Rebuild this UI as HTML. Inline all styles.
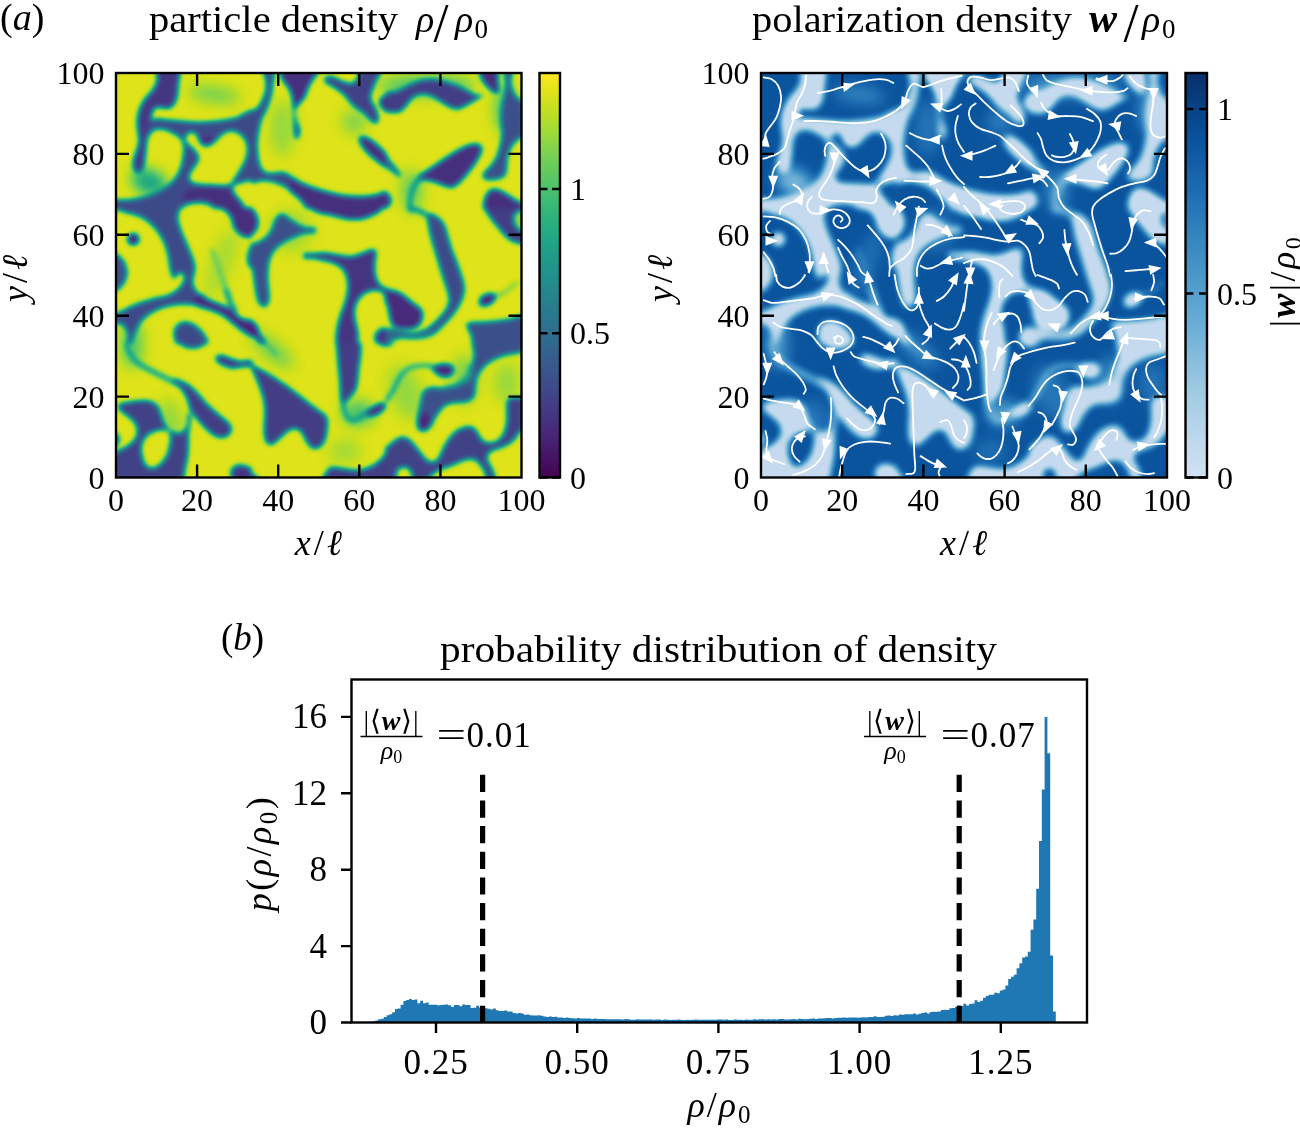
<!DOCTYPE html><html><head><meta charset="utf-8"><title>figure</title><style>html,body{margin:0;padding:0;background:#fff}svg{display:block}text{font-family:"Liberation Serif",serif;fill:#000}.t{letter-spacing:0.5px}.i{font-style:italic}.b{font-weight:bold;font-style:italic}</style></head><body>
<svg width="1300" height="1132" viewBox="0 0 1300 1132">
<defs>
<filter id="fv" x="0" y="0" width="1" height="1" color-interpolation-filters="sRGB"><feGaussianBlur stdDeviation="0.7"/><feComponentTransfer><feFuncR type="table" tableValues="0.2670 0.2770 0.2823 0.2829 0.2788 0.2706 0.2590 0.2450 0.2297 0.2143 0.1994 0.1856 0.1727 0.1607 0.1490 0.1378 0.1276 0.1206 0.1206 0.1323 0.1579 0.1966 0.2461 0.3041 0.3692 0.4401 0.5160 0.5958 0.6785 0.7624 0.8456 0.9261 0.9932"/><feFuncG type="table" tableValues="0.0049 0.0503 0.0950 0.1359 0.1755 0.2141 0.2515 0.2877 0.3224 0.3556 0.3876 0.4186 0.4488 0.4785 0.5081 0.5375 0.5669 0.5964 0.6258 0.6550 0.6838 0.7118 0.7389 0.7647 0.7889 0.8111 0.8312 0.8487 0.8637 0.8764 0.8873 0.8973 0.9062"/><feFuncB type="table" tableValues="0.3294 0.3757 0.4173 0.4534 0.4834 0.5071 0.5247 0.5373 0.5457 0.5512 0.5546 0.5568 0.5579 0.5581 0.5573 0.5549 0.5506 0.5436 0.5335 0.5197 0.5017 0.4792 0.4520 0.4199 0.3829 0.3410 0.2943 0.2433 0.1895 0.1371 0.0997 0.1041 0.1439"/></feComponentTransfer></filter>
<filter id="fb" x="0" y="0" width="1" height="1" color-interpolation-filters="sRGB"><feGaussianBlur stdDeviation="0.9"/><feComponentTransfer><feFuncR type="table" tableValues="0.7752 0.7752 0.7752 0.7752 0.7752 0.7752 0.7752 0.7752 0.7752 0.7752 0.7752 0.7605 0.7408 0.7162 0.6867 0.6571 0.6276 0.5859 0.5420 0.4918 0.4416 0.3969 0.3566 0.3112 0.2658 0.2238 0.1873 0.1467 0.1117 0.0810 0.0471 0.0348 0.0348"/><feFuncG type="table" tableValues="0.8583 0.8583 0.8583 0.8583 0.8583 0.8583 0.8583 0.8583 0.8583 0.8583 0.8583 0.8520 0.8437 0.8332 0.8207 0.8081 0.7956 0.7736 0.7495 0.7220 0.6944 0.6669 0.6393 0.6083 0.5773 0.5375 0.5010 0.4604 0.4205 0.3811 0.3378 0.3221 0.3221"/><feFuncB type="table" tableValues="0.9368 0.9368 0.9368 0.9368 0.9368 0.9368 0.9368 0.9368 0.9368 0.9368 0.9368 0.9317 0.9248 0.9162 0.9058 0.8955 0.8852 0.8751 0.8656 0.8548 0.8440 0.8304 0.8146 0.7969 0.7792 0.7584 0.7396 0.7187 0.6921 0.6614 0.6275 0.6152 0.6152"/></feComponentTransfer></filter>
<linearGradient id="gv" x1="0" y1="1" x2="0" y2="0"><stop offset="0.0000" stop-color="#440154"/><stop offset="0.0417" stop-color="#471063"/><stop offset="0.0833" stop-color="#481f70"/><stop offset="0.1250" stop-color="#472d7b"/><stop offset="0.1667" stop-color="#443983"/><stop offset="0.2083" stop-color="#404688"/><stop offset="0.2500" stop-color="#3b528b"/><stop offset="0.2917" stop-color="#365d8d"/><stop offset="0.3333" stop-color="#31688e"/><stop offset="0.3750" stop-color="#2c728e"/><stop offset="0.4167" stop-color="#287c8e"/><stop offset="0.4583" stop-color="#24868e"/><stop offset="0.5000" stop-color="#21918c"/><stop offset="0.5417" stop-color="#1f9a8a"/><stop offset="0.5833" stop-color="#20a486"/><stop offset="0.6250" stop-color="#28ae80"/><stop offset="0.6667" stop-color="#35b779"/><stop offset="0.7083" stop-color="#48c16e"/><stop offset="0.7500" stop-color="#5ec962"/><stop offset="0.7917" stop-color="#75d054"/><stop offset="0.8333" stop-color="#90d743"/><stop offset="0.8750" stop-color="#addc30"/><stop offset="0.9167" stop-color="#c8e020"/><stop offset="0.9583" stop-color="#e5e419"/><stop offset="1.0000" stop-color="#fde725"/></linearGradient>
<linearGradient id="gb" x1="0" y1="1" x2="0" y2="0"><stop offset="0.0000" stop-color="#d0e1f2"/><stop offset="0.0417" stop-color="#caddf0"/><stop offset="0.0833" stop-color="#c1d9ed"/><stop offset="0.1250" stop-color="#b7d4ea"/><stop offset="0.1667" stop-color="#abd0e6"/><stop offset="0.2083" stop-color="#a1cbe2"/><stop offset="0.2500" stop-color="#94c4df"/><stop offset="0.2917" stop-color="#87bddc"/><stop offset="0.3333" stop-color="#79b5d9"/><stop offset="0.3750" stop-color="#6aaed6"/><stop offset="0.4167" stop-color="#60a7d2"/><stop offset="0.4583" stop-color="#549fcd"/><stop offset="0.5000" stop-color="#4a98c9"/><stop offset="0.5417" stop-color="#3f8fc5"/><stop offset="0.5833" stop-color="#3787c0"/><stop offset="0.6250" stop-color="#2e7ebc"/><stop offset="0.6667" stop-color="#2575b7"/><stop offset="0.7083" stop-color="#1d6cb1"/><stop offset="0.7500" stop-color="#1764ab"/><stop offset="0.7917" stop-color="#105ba4"/><stop offset="0.8333" stop-color="#0a539e"/><stop offset="0.8750" stop-color="#084a91"/><stop offset="0.9167" stop-color="#084285"/><stop offset="0.9583" stop-color="#083877"/><stop offset="1.0000" stop-color="#08306b"/></linearGradient>
<clipPath id="cpf"><rect x="-3" y="-3" width="106" height="106"/></clipPath><clipPath id="cpo"><rect x="0" y="0" width="100" height="100"/></clipPath>
<g id="field" clip-path="url(#cpf)"><rect x="-4" y="-4" width="108" height="108" fill="#f2f2f2"/><filter id="hz" x="-1" y="-1" width="3" height="3" color-interpolation-filters="sRGB"><feGaussianBlur stdDeviation="1.6"/></filter><g filter="url(#hz)"><ellipse cx="8.2" cy="73.0" rx="4.5" ry="2.8" fill="#8c8c8c" transform="rotate(-25 8.2 73.0)"/><ellipse cx="24.2" cy="94.7" rx="6.5" ry="2.0" fill="#c7c7c7" transform="rotate(-8 24.2 94.7)"/><ellipse cx="41.0" cy="86.3" rx="3.0" ry="7.0" fill="#d6d6d6" transform="rotate(0 41.0 86.3)"/><ellipse cx="58.8" cy="88.0" rx="3.0" ry="3.0" fill="#cccccc" transform="rotate(0 58.8 88.0)"/><ellipse cx="76.6" cy="96.8" rx="12.0" ry="2.5" fill="#b8b8b8" transform="rotate(0 76.6 96.8)"/><ellipse cx="96.0" cy="91.0" rx="2.5" ry="6.0" fill="#b2b2b2" transform="rotate(0 96.0 91.0)"/><ellipse cx="72.9" cy="70.8" rx="2.5" ry="5.0" fill="#bfbfbf" transform="rotate(0 72.9 70.8)"/><ellipse cx="43.0" cy="61.0" rx="5.0" ry="5.0" fill="#d9d9d9" transform="rotate(0 43.0 61.0)"/><ellipse cx="26.0" cy="53.0" rx="2.5" ry="9.0" fill="#dbdbdb" transform="rotate(-20 26.0 53.0)"/><ellipse cx="4.0" cy="33.0" rx="2.5" ry="6.0" fill="#b8b8b8" transform="rotate(0 4.0 33.0)"/><ellipse cx="38.5" cy="31.5" rx="6.5" ry="2.2" fill="#c7c7c7" transform="rotate(-40 38.5 31.5)"/><ellipse cx="59.8" cy="15.9" rx="4.0" ry="3.0" fill="#b2b2b2" transform="rotate(0 59.8 15.9)"/><ellipse cx="71.5" cy="21.0" rx="4.0" ry="7.0" fill="#d6d6d6" transform="rotate(20 71.5 21.0)"/><ellipse cx="86.0" cy="24.3" rx="3.0" ry="6.0" fill="#cccccc" transform="rotate(0 86.0 24.3)"/><ellipse cx="96.4" cy="23.4" rx="3.0" ry="5.0" fill="#d6d6d6" transform="rotate(0 96.4 23.4)"/><ellipse cx="56.5" cy="6.5" rx="4.0" ry="3.0" fill="#dbdbdb" transform="rotate(0 56.5 6.5)"/><ellipse cx="13.5" cy="13.5" rx="3.0" ry="6.0" fill="#d6d6d6" transform="rotate(10 13.5 13.5)"/></g><clipPath id="ct00"><rect x="-4.000" y="66.625" width="37.292" height="37.375"/></clipPath><g clip-path="url(#ct00)"><path fill="#292929" d="M10.44 100.88C11.84 101.69 14.02 101.89 15.29 100.88C16.30 100.09 15.35 98.33 15.29 97.05C15.25 96.07 15.22 95.06 15.00 94.10C14.83 93.38 14.60 92.61 14.12 92.04C13.76 91.62 13.19 91.37 12.65 91.30C11.96 91.22 11.28 91.63 10.59 91.60C10.17 91.58 9.71 91.45 9.41 91.16C9.07 90.81 8.96 90.29 8.82 89.83C8.67 89.30 8.65 88.74 8.53 88.21C8.35 87.42 8.11 86.64 7.94 85.85C7.77 85.07 7.60 84.28 7.50 83.49C7.40 82.71 7.43 81.92 7.35 81.13C7.28 80.34 7.17 79.56 7.06 78.77C6.97 78.18 6.93 77.58 6.76 77.00C6.65 76.59 6.51 76.16 6.23 75.82C6.04 75.59 5.74 75.33 5.44 75.38C5.06 75.45 4.72 75.77 4.56 76.12C4.30 76.66 4.24 77.29 4.26 77.89C4.29 78.50 4.53 79.08 4.71 79.66C4.92 80.36 5.25 81.02 5.44 81.72C5.60 82.30 5.73 82.89 5.73 83.49C5.73 84.28 5.51 85.06 5.44 85.85C5.37 86.63 5.23 87.42 5.29 88.21C5.38 89.21 5.54 90.21 5.88 91.16C6.23 92.10 6.78 92.97 7.35 93.81C7.86 94.56 8.61 95.12 9.12 95.87C9.55 96.51 9.95 97.19 10.15 97.94C10.40 98.89 9.58 100.39 10.44 100.88Z"/><path fill="#393939" d="M7.94 87.62C8.16 88.25 9.05 88.42 9.71 88.56C10.38 88.71 11.08 88.50 11.76 88.44C13.24 88.33 14.70 88.17 16.18 88.06C17.65 87.95 19.11 87.76 20.59 87.76C22.06 87.76 23.53 87.89 25.00 88.06C26.48 88.23 27.96 88.46 29.41 88.80C30.91 89.15 33.53 91.63 33.82 90.12C35.35 82.26 40.41 70.65 33.82 66.09C24.31 59.51 10.66 65.39 -0.88 66.09C-1.59 66.14 -1.47 67.83 -0.88 68.22C0.19 68.92 1.67 68.45 2.94 68.60C3.93 68.72 4.92 68.81 5.88 69.04C7.18 69.35 8.48 69.69 9.71 70.22C10.75 70.68 11.74 71.30 12.65 71.99C13.42 72.58 14.14 73.27 14.71 74.06C15.28 74.86 15.69 75.78 16.03 76.71C16.34 77.56 16.49 78.47 16.62 79.36C16.73 80.14 16.87 80.94 16.76 81.72C16.67 82.44 16.46 83.19 16.03 83.78C15.64 84.32 14.98 84.62 14.41 84.96C13.75 85.36 13.09 85.77 12.35 86.00C11.69 86.19 10.98 86.29 10.29 86.20C9.76 86.14 9.23 85.90 8.82 85.55C8.37 85.17 8.02 84.63 7.79 84.08C7.57 83.53 7.47 81.71 7.50 82.31C7.57 84.08 7.35 85.94 7.94 87.62Z"/><path fill="#222222" d="M18.23 71.11C19.42 71.61 20.77 71.63 22.06 71.70C23.53 71.78 25.01 71.72 26.47 71.55C27.08 71.48 27.74 71.33 28.23 70.96C28.77 70.56 29.01 69.87 29.41 69.34C29.99 68.55 31.17 67.96 31.17 66.98C31.17 66.32 30.06 66.19 29.41 66.09C27.95 65.89 26.42 65.74 25.00 66.09C24.61 66.19 24.97 66.97 24.70 67.27C24.24 67.81 23.61 68.24 22.94 68.45C22.00 68.75 20.98 68.80 20.00 68.75C19.19 68.70 18.44 68.03 17.65 68.16C17.10 68.25 16.36 68.79 16.47 69.34C16.63 70.15 17.47 70.78 18.23 71.11Z"/><path fill="#222222" d="M20.59 83.93C20.67 84.53 21.75 84.40 22.35 84.37C23.06 84.35 24.04 84.39 24.41 83.78C24.69 83.33 23.98 82.74 23.53 82.46C23.11 82.20 22.50 82.09 22.06 82.31C21.41 82.64 20.48 83.21 20.59 83.93Z"/><path fill="#f2f2f2" d="M17.06 84.08C17.11 84.47 17.33 84.87 17.65 85.11C17.97 85.35 18.43 85.48 18.82 85.41C19.28 85.32 19.71 85.03 20.00 84.67C20.33 84.26 20.32 83.65 20.59 83.19C20.82 82.80 21.08 82.39 21.47 82.16C21.81 81.97 22.27 81.91 22.65 82.02C23.20 82.17 23.67 82.54 24.12 82.90C24.66 83.33 25.06 83.92 25.59 84.37C26.04 84.76 26.50 85.18 27.06 85.41C27.61 85.63 28.23 85.77 28.82 85.70C29.45 85.62 30.08 85.35 30.59 84.96C31.19 84.49 31.71 83.88 32.06 83.19C32.37 82.57 32.50 81.83 32.50 81.13C32.50 80.33 32.32 79.53 32.06 78.77C31.77 77.94 31.31 77.18 30.88 76.41C30.43 75.61 29.92 74.83 29.41 74.06C29.04 73.50 28.79 72.80 28.23 72.43C27.73 72.11 27.07 72.16 26.47 72.14C25.49 72.11 24.51 72.24 23.53 72.29C22.55 72.34 21.56 72.31 20.59 72.43C19.99 72.51 19.34 72.56 18.82 72.88C18.40 73.13 18.02 73.57 17.94 74.06C17.86 74.56 18.15 75.07 18.38 75.53C18.65 76.07 19.08 76.50 19.41 77.00C19.72 77.48 20.18 77.92 20.29 78.48C20.39 78.97 20.22 79.50 20.00 79.95C19.72 80.51 19.25 80.97 18.82 81.43C18.37 81.91 17.72 82.20 17.35 82.75C17.10 83.13 17.00 83.63 17.06 84.08Z"/><path fill="#f2f2f2" d="M28.67 71.70C28.86 72.22 29.49 72.49 30.00 72.73C30.55 72.99 31.17 73.06 31.76 73.17C32.44 73.30 33.63 74.13 33.82 73.47C34.51 71.11 34.30 68.50 33.82 66.09C33.73 65.61 32.75 65.81 32.35 66.09C31.56 66.67 31.19 67.68 30.59 68.45C30.11 69.06 29.51 69.56 29.12 70.22C28.86 70.66 28.50 71.21 28.67 71.70Z"/><path fill="#f2f2f2" d="M15.88 66.09C15.57 66.12 16.23 66.63 16.47 66.83C16.82 67.13 17.21 67.42 17.65 67.57C18.40 67.82 19.20 67.99 20.00 68.01C20.79 68.04 21.59 67.92 22.35 67.72C22.88 67.57 23.39 67.32 23.82 66.98C24.10 66.76 24.76 66.13 24.41 66.09C21.58 65.78 18.71 65.83 15.88 66.09Z"/></g><clipPath id="ct01"><rect x="-4.000" y="33.251" width="37.292" height="33.375"/></clipPath><g clip-path="url(#ct01)"><path fill="#393939" d="M-0.59 67.22C1.98 71.84 10.09 68.19 15.29 67.22C16.26 67.03 15.09 65.25 15.15 64.27C15.19 63.56 15.39 62.88 15.59 62.20C15.83 61.40 16.15 60.62 16.47 59.84C16.84 58.95 17.27 58.08 17.65 57.19C18.06 56.22 18.49 55.25 18.82 54.24C19.08 53.47 19.35 52.69 19.41 51.88C19.45 51.29 19.21 50.70 19.12 50.12C19.02 49.53 18.77 48.94 18.82 48.35C18.87 47.73 19.11 47.12 19.41 46.58C19.71 46.02 20.12 45.52 20.59 45.10C21.11 44.63 21.74 44.28 22.35 43.92C23.11 43.49 23.90 43.10 24.70 42.74C25.47 42.41 26.31 42.24 27.06 41.86C27.50 41.64 27.86 41.30 28.23 40.98C28.65 40.61 28.97 40.14 29.41 39.80C29.86 39.44 30.37 39.17 30.88 38.91C31.84 38.43 33.13 38.41 33.82 37.58C34.29 37.02 34.32 35.92 33.82 35.37C33.47 34.98 32.81 35.71 32.35 35.96C31.73 36.30 31.15 36.72 30.59 37.14C29.97 37.60 29.41 38.13 28.82 38.62C28.23 39.11 27.69 39.65 27.06 40.09C26.41 40.54 25.72 40.95 25.00 41.27C24.15 41.64 23.25 41.92 22.35 42.15C21.38 42.41 20.40 42.62 19.41 42.74C18.44 42.87 17.45 42.92 16.47 42.89C15.48 42.87 14.49 42.79 13.53 42.60C12.52 42.40 11.53 42.11 10.59 41.71C9.76 41.37 8.97 40.90 8.23 40.39C7.49 39.87 6.76 39.31 6.18 38.62C5.67 38.01 5.35 37.26 5.00 36.55C4.67 35.88 4.36 35.20 4.12 34.49C3.92 33.91 4.04 33.21 3.68 32.72C3.50 32.48 2.87 32.44 2.79 32.72C2.60 33.39 3.11 34.09 3.09 34.78C3.06 35.39 2.93 36.01 2.65 36.55C2.37 37.08 1.97 37.56 1.47 37.88C0.86 38.27 -0.54 37.89 -0.59 38.62C-1.26 48.13 -5.22 58.88 -0.59 67.22Z"/><path fill="#f2f2f2" d="M-0.59 65.74C-0.42 66.91 1.78 65.66 2.94 65.45C3.95 65.26 4.96 65.00 5.88 64.56C6.84 64.11 7.73 63.49 8.53 62.79C9.31 62.10 9.99 61.29 10.59 60.43C11.17 59.61 11.67 58.71 12.06 57.78C12.46 56.83 12.72 55.83 12.94 54.83C13.16 53.86 13.20 52.86 13.38 51.88C13.49 51.29 13.60 50.68 13.82 50.12C13.95 49.78 14.06 49.23 14.41 49.23C14.77 49.23 14.75 49.86 15.00 50.12C15.25 50.37 15.53 50.70 15.88 50.70C16.24 50.70 16.59 50.42 16.76 50.12C16.96 49.77 17.00 49.32 16.91 48.94C16.79 48.40 16.50 47.90 16.18 47.46C15.76 46.91 15.28 46.38 14.71 45.99C13.98 45.49 13.18 45.09 12.35 44.81C11.40 44.49 10.38 44.46 9.41 44.22C8.42 43.97 7.44 43.67 6.47 43.33C5.47 42.98 4.49 42.58 3.53 42.15C2.73 41.80 1.99 41.30 1.18 40.98C0.61 40.75 -0.55 39.93 -0.59 40.53C-1.19 48.91 -1.77 57.42 -0.59 65.74Z"/><path fill="#3e3e3e" d="M-0.59 55.13C-0.38 55.89 0.93 54.52 1.47 53.95C2.00 53.39 2.27 52.62 2.50 51.88C2.67 51.32 2.72 50.70 2.65 50.12C2.57 49.50 2.36 48.89 2.06 48.35C1.76 47.79 1.38 47.26 0.88 46.87C0.47 46.55 -0.50 45.76 -0.59 46.28C-1.11 49.18 -1.35 52.28 -0.59 55.13Z"/><path fill="#0e0e0e" d="M2.94 58.90C2.94 59.24 3.08 59.60 3.32 59.84C3.56 60.08 3.93 60.23 4.26 60.23C4.60 60.23 4.97 60.08 5.21 59.84C5.45 59.60 5.59 59.24 5.59 58.90C5.59 58.56 5.45 58.20 5.21 57.96C4.97 57.72 4.60 57.57 4.26 57.57C3.93 57.57 3.56 57.72 3.32 57.96C3.08 58.20 2.94 58.56 2.94 58.90Z"/><path fill="#222222" d="M25.59 67.22C24.72 66.97 27.05 66.13 27.65 65.45C28.09 64.93 28.41 64.31 28.67 63.68C28.91 63.12 28.84 62.45 29.12 61.91C29.40 61.35 29.82 60.85 30.29 60.43C30.72 60.05 31.20 59.67 31.76 59.55C32.44 59.41 33.64 59.03 33.82 59.70C34.47 62.12 35.67 65.53 33.82 67.22C31.79 69.07 28.23 67.97 25.59 67.22Z"/><path fill="#3e3e3e" d="M33.82 57.19C33.74 57.60 33.11 56.69 32.94 56.31C32.65 55.66 32.53 54.95 32.50 54.24C32.48 53.65 32.50 53.00 32.79 52.47C32.99 52.13 33.74 51.50 33.82 51.88C34.20 53.61 34.17 55.46 33.82 57.19Z"/><path fill="#393939" d="M14.41 35.96C14.48 36.49 14.65 37.04 15.00 37.44C15.38 37.87 15.91 38.19 16.47 38.32C17.05 38.45 17.67 38.36 18.23 38.17C18.88 37.96 19.46 37.56 20.00 37.14C20.55 36.72 21.05 36.22 21.47 35.67C21.89 35.13 22.22 34.52 22.50 33.90C22.66 33.53 23.19 32.79 22.79 32.72C20.33 32.32 17.75 32.28 15.29 32.72C14.75 32.82 14.70 33.66 14.56 34.19C14.40 34.77 14.33 35.38 14.41 35.96Z"/><path fill="#bfbfbf" d="M23.23 56.31C23.21 56.56 23.83 56.66 23.97 56.45C24.61 55.53 24.88 54.40 25.29 53.36C25.71 52.29 26.10 51.20 26.47 50.12C26.83 49.04 27.45 48.01 27.50 46.87C27.51 46.56 26.79 46.32 26.62 46.58C25.96 47.52 25.83 48.74 25.44 49.82C25.05 50.90 24.63 51.97 24.26 53.06C23.90 54.14 23.33 55.18 23.23 56.31Z"/><path fill="#808080" d="M26.62 46.58C26.60 46.89 27.32 47.13 27.50 46.87C28.16 45.93 28.27 44.70 28.67 43.63C29.05 42.64 29.85 41.74 29.85 40.68C29.85 40.26 28.96 39.93 28.67 40.24C28.00 40.96 27.95 42.09 27.65 43.04C27.27 44.21 26.66 45.35 26.62 46.58Z"/><path fill="#1c1c1c" d="M20.59 45.25C21.38 45.40 21.93 44.35 22.65 43.98C23.40 43.59 24.21 43.30 25.00 42.98C25.73 42.69 26.50 42.50 27.20 42.15C27.68 41.92 28.12 41.61 28.53 41.27C28.96 40.92 29.27 40.43 29.70 40.09C30.16 39.74 30.64 39.42 31.17 39.21C32.22 38.78 33.74 39.09 34.41 38.17C35.08 37.26 35.10 35.68 34.41 34.78C33.96 34.21 33.00 35.19 32.35 35.52C31.72 35.84 31.15 36.28 30.59 36.70C29.97 37.16 29.41 37.68 28.82 38.17C28.23 38.67 27.69 39.21 27.06 39.65C26.41 40.10 25.71 40.49 25.00 40.83C24.24 41.18 23.44 41.45 22.65 41.71C21.97 41.94 21.24 42.00 20.59 42.30C20.04 42.55 19.12 42.74 19.12 43.33C19.12 44.14 19.80 45.10 20.59 45.25Z"/></g><clipPath id="ct02"><rect x="-4.000" y="-4.000" width="37.292" height="37.251"/></clipPath><g clip-path="url(#ct02)"><path fill="#393939" d="M15.29 33.84C14.75 33.73 15.99 32.95 16.47 32.66C17.00 32.34 17.62 32.14 18.23 32.07C18.92 31.99 19.63 32.05 20.29 32.22C20.82 32.35 21.33 32.62 21.76 32.96C22.04 33.18 22.70 33.79 22.35 33.84C20.02 34.16 17.60 34.30 15.29 33.84Z"/><path fill="#222222" d="M24.65 29.48C24.66 29.86 25.20 30.11 25.59 30.16C26.09 30.22 26.58 29.93 27.06 29.77C27.71 29.56 28.32 29.24 28.97 29.03C29.59 28.84 30.23 28.62 30.88 28.59C31.86 28.55 32.87 29.09 33.82 28.83C34.15 28.74 34.13 27.94 33.82 27.80C32.93 27.38 31.86 27.57 30.88 27.44C30.19 27.35 29.51 27.12 28.82 27.15C28.22 27.17 27.62 27.38 27.06 27.59C26.52 27.79 25.98 28.03 25.53 28.39C25.16 28.67 24.63 29.01 24.65 29.48Z"/><path fill="#808080" d="M2.65 33.84C3.09 33.13 3.12 32.21 3.53 31.48C4.01 30.63 4.58 29.79 5.29 29.12C6.07 28.40 7.02 27.88 7.94 27.35C8.99 26.75 10.10 26.27 11.18 25.73C12.06 25.29 12.93 24.83 13.82 24.41C14.70 23.99 15.79 23.91 16.47 23.23C16.72 22.98 16.23 22.31 15.88 22.34C14.92 22.43 14.11 23.11 13.23 23.52C12.34 23.94 11.47 24.41 10.59 24.85C9.61 25.34 8.61 25.79 7.65 26.32C6.74 26.82 5.79 27.28 5.00 27.94C4.31 28.52 3.72 29.24 3.24 30.01C2.78 30.73 2.46 31.55 2.21 32.37C2.06 32.84 1.92 33.37 2.06 33.84C2.11 34.03 2.54 34.01 2.65 33.84Z"/><path fill="#2e2e2e" d="M14.12 24.26C14.94 24.33 15.72 23.85 16.47 23.52C17.20 23.21 17.90 22.83 18.53 22.34C19.19 21.83 19.73 21.19 20.29 20.57C20.81 20.01 21.25 19.37 21.76 18.80C22.33 18.19 22.92 17.60 23.53 17.04C24.19 16.42 24.90 15.85 25.59 15.27C26.17 14.77 26.82 14.35 27.35 13.79C27.76 13.36 28.26 12.91 28.38 12.32C28.48 11.82 28.26 11.24 27.94 10.84C27.58 10.40 27.03 10.06 26.47 9.96C25.88 9.85 25.25 10.02 24.70 10.25C24.05 10.53 23.48 10.98 22.94 11.43C22.30 11.97 21.74 12.59 21.18 13.20C20.66 13.77 20.19 14.38 19.70 14.97C19.31 15.46 18.81 15.88 18.53 16.45C18.21 17.09 18.18 17.84 17.94 18.51C17.69 19.21 17.41 19.91 17.06 20.57C16.72 21.20 16.34 21.80 15.88 22.34C15.55 22.74 15.06 22.99 14.71 23.37C14.47 23.63 13.76 24.23 14.12 24.26Z"/><path fill="#323232" d="M0.59 17.63C0.62 17.90 0.92 18.11 1.18 18.21C1.73 18.44 2.35 18.47 2.94 18.57C3.62 18.68 4.31 18.80 5.00 18.86C5.68 18.93 6.37 19.01 7.06 18.95C7.76 18.89 8.48 18.80 9.12 18.51C9.59 18.29 10.00 17.91 10.29 17.48C10.62 17.00 10.74 16.40 10.94 15.86C11.15 15.27 11.28 14.66 11.53 14.09C11.80 13.47 12.07 12.84 12.50 12.32C12.85 11.89 13.33 11.56 13.82 11.29C14.28 11.04 14.78 10.79 15.29 10.79C15.76 10.79 16.25 10.99 16.62 11.29C17.03 11.63 17.31 12.12 17.50 12.61C17.71 13.17 17.69 13.79 17.79 14.38C17.88 14.87 17.59 15.86 18.09 15.86C18.59 15.86 18.41 14.88 18.38 14.38C18.31 13.19 17.91 12.03 17.79 10.84C17.71 9.96 17.83 9.07 17.79 8.19C17.76 7.21 17.72 6.22 17.59 5.24C17.45 4.25 17.26 3.26 17.00 2.29C16.73 1.29 17.05 -0.48 16.03 -0.65C10.57 -1.57 4.57 -2.67 -0.59 -0.65C-2.60 0.13 -1.01 3.71 -0.59 5.83C-0.48 6.39 0.38 6.44 0.88 6.72C1.46 7.03 2.09 7.25 2.65 7.60C3.18 7.94 3.69 8.32 4.12 8.78C4.53 9.22 4.94 9.69 5.15 10.25C5.35 10.81 5.37 11.44 5.29 12.02C5.22 12.55 5.00 13.06 4.71 13.50C4.40 13.96 3.94 14.31 3.53 14.68C3.06 15.09 2.54 15.46 2.06 15.86C1.71 16.14 1.32 16.39 1.03 16.74C0.82 16.99 0.56 17.30 0.59 17.63Z"/><path fill="#f2f2f2" d="M6.18 7.31C6.20 7.91 6.34 8.54 6.62 9.08C6.94 9.69 7.40 10.26 7.94 10.70C8.45 11.11 9.08 11.39 9.71 11.58C10.37 11.79 11.07 11.94 11.76 11.88C12.25 11.83 12.79 11.66 13.09 11.29C13.44 10.85 13.51 10.22 13.53 9.66C13.56 8.97 13.38 8.28 13.23 7.60C13.09 6.90 12.95 6.19 12.65 5.54C12.35 4.89 11.94 4.30 11.47 3.77C11.05 3.30 10.56 2.87 10.00 2.59C9.55 2.36 9.02 2.19 8.53 2.29C8.01 2.40 7.53 2.76 7.21 3.18C6.81 3.68 6.62 4.33 6.47 4.95C6.28 5.72 6.15 6.51 6.18 7.31Z"/><path fill="#4c4c4c" d="M-0.59 11.14C-0.46 11.51 0.19 10.86 0.44 10.55C0.70 10.23 0.82 9.78 0.82 9.37C0.82 8.96 0.70 8.51 0.44 8.19C0.19 7.88 -0.46 7.23 -0.59 7.60C-0.98 8.71 -0.98 10.03 -0.59 11.14Z"/><path fill="#272727" d="M28.38 1.41C28.49 1.86 28.74 2.31 29.12 2.59C29.53 2.89 30.07 3.03 30.59 3.03C31.19 3.03 31.78 2.80 32.35 2.59C32.87 2.40 33.60 2.35 33.82 1.85C34.17 1.09 34.56 -0.26 33.82 -0.65C32.44 -1.39 30.66 -0.91 29.12 -0.65C28.77 -0.60 28.65 -0.10 28.53 0.23C28.39 0.60 28.28 1.03 28.38 1.41Z"/></g><clipPath id="ct10"><rect x="33.292" y="66.625" width="33.292" height="37.375"/></clipPath><g clip-path="url(#ct10)"><path fill="#393939" d="M32.70 90.12C32.79 90.89 34.21 90.62 34.76 91.16C35.43 91.80 35.85 92.67 36.23 93.51C36.62 94.36 36.92 95.25 37.06 96.17C37.17 96.95 37.06 97.74 36.97 98.53C36.88 99.22 36.07 100.05 36.53 100.59C37.01 101.15 38.36 101.23 38.73 100.59C39.33 99.57 38.69 98.23 38.59 97.05C38.50 96.06 38.39 95.07 38.14 94.10C37.89 93.09 37.52 92.12 37.12 91.16C36.78 90.34 36.25 89.62 35.94 88.80C35.61 87.94 35.37 87.05 35.20 86.14C34.97 84.88 34.79 83.60 34.76 82.31C34.74 81.13 34.85 79.94 35.06 78.77C35.20 77.96 35.38 77.13 35.79 76.41C36.09 75.90 36.56 75.43 37.12 75.23C37.76 75.01 38.49 75.21 39.17 75.23C39.86 75.26 40.56 75.53 41.23 75.38C41.98 75.22 42.62 74.73 43.29 74.35C44.10 73.89 44.82 73.29 45.64 72.88C46.59 72.40 47.59 72.04 48.59 71.70C49.84 71.26 51.12 70.84 52.41 70.52C53.86 70.15 55.33 69.81 56.82 69.63C58.28 69.46 59.76 69.43 61.23 69.49C62.32 69.53 63.39 69.74 64.47 69.93C65.36 70.08 66.60 71.26 67.11 70.52C67.95 69.30 68.55 66.42 67.11 66.09C60.81 64.66 54.14 65.46 47.70 66.09C46.86 66.18 46.78 67.51 46.23 68.16C45.70 68.80 45.10 69.38 44.47 69.93C43.72 70.57 42.96 71.20 42.12 71.70C41.19 72.24 40.20 72.71 39.17 73.02C38.22 73.31 37.22 73.42 36.23 73.47C35.06 73.52 32.95 72.17 32.70 73.32C31.54 78.80 32.06 84.56 32.70 90.12Z"/><path fill="#222222" d="M40.64 100.59C39.86 100.40 40.89 98.97 41.23 98.23C41.59 97.47 42.31 96.91 42.70 96.17C43.05 95.52 43.28 94.82 43.44 94.10C43.63 93.23 43.66 92.34 43.73 91.45C43.81 90.57 43.82 89.68 43.88 88.80C43.92 88.21 43.98 87.62 44.03 87.03C44.08 86.24 44.03 85.44 44.17 84.67C44.23 84.34 44.29 83.78 44.62 83.78C44.94 83.78 44.98 84.35 45.06 84.67C45.18 85.15 45.28 85.65 45.20 86.14C45.13 86.67 44.76 87.11 44.62 87.62C44.42 88.29 44.23 88.98 44.17 89.68C44.13 90.27 44.10 90.90 44.32 91.45C44.51 91.93 45.02 92.23 45.35 92.63C45.75 93.11 46.23 93.55 46.53 94.10C46.92 94.84 47.05 95.70 47.41 96.46C47.74 97.18 48.15 97.87 48.59 98.53C48.93 99.05 49.29 99.59 49.76 100.00C50.09 100.29 51.38 100.56 50.94 100.59C47.51 100.81 43.98 101.40 40.64 100.59Z"/><path fill="#323232" d="M51.53 98.53C51.66 98.85 52.06 99.07 52.41 99.12C52.90 99.18 53.41 98.99 53.88 98.82C54.50 98.60 55.03 98.17 55.64 97.94C56.31 97.68 56.99 97.35 57.70 97.35C58.23 97.35 58.80 97.56 59.17 97.94C59.55 98.31 59.62 98.90 59.76 99.41C59.87 99.79 59.52 100.50 59.91 100.59C61.58 100.96 63.55 101.42 65.06 100.59C65.79 100.18 64.48 99.01 64.17 98.23C63.90 97.54 63.54 96.87 63.29 96.17C63.05 95.49 62.73 94.82 62.70 94.10C62.68 93.59 62.93 93.10 63.14 92.63C63.38 92.11 63.79 91.68 64.03 91.16C64.28 90.59 64.53 90.00 64.61 89.39C64.68 88.90 64.66 88.37 64.47 87.91C64.38 87.71 64.09 87.55 63.88 87.62C63.41 87.77 63.07 88.17 62.70 88.50C62.08 89.06 61.58 89.74 60.94 90.27C60.39 90.72 59.72 91.00 59.17 91.45C58.64 91.89 58.17 92.41 57.70 92.92C57.28 93.39 56.97 93.95 56.53 94.40C55.98 94.94 55.37 95.41 54.76 95.87C54.20 96.30 53.60 96.69 53.00 97.05C52.62 97.28 52.13 97.33 51.82 97.64C51.60 97.86 51.41 98.24 51.53 98.53Z"/><path fill="#222222" d="M67.41 94.55C67.22 95.02 66.39 94.34 65.94 94.10C65.63 93.94 65.36 93.68 65.20 93.37C65.05 93.06 64.98 92.67 65.06 92.33C65.13 91.99 65.37 91.67 65.64 91.45C66.17 91.02 67.07 89.83 67.41 90.42C68.09 91.61 67.92 93.27 67.41 94.55Z"/><path fill="#222222" d="M60.06 83.93C60.16 84.27 60.73 84.29 61.08 84.23C61.67 84.13 62.20 83.80 62.70 83.49C63.33 83.11 63.91 82.64 64.47 82.16C64.99 81.71 65.46 81.19 65.94 80.69C66.34 80.26 66.76 79.83 67.11 79.36C67.54 78.80 68.08 78.27 68.29 77.59C68.49 76.94 68.78 76.02 68.29 75.53C67.94 75.18 67.52 76.13 67.11 76.41C66.53 76.82 65.93 77.18 65.35 77.59C64.75 78.02 64.15 78.45 63.58 78.92C62.97 79.43 62.36 79.95 61.82 80.54C61.32 81.09 60.84 81.66 60.50 82.31C60.24 82.81 59.89 83.40 60.06 83.93Z"/><path fill="#222222" d="M43.00 73.32C43.84 73.68 44.77 72.82 45.64 72.52C46.64 72.18 47.59 71.74 48.59 71.40C49.85 70.97 51.12 70.55 52.41 70.22C53.86 69.86 55.33 69.51 56.82 69.34C58.28 69.17 59.76 69.16 61.23 69.22C62.32 69.26 63.40 69.45 64.47 69.63C65.46 69.80 66.80 71.08 67.41 70.28C68.32 69.10 68.86 66.14 67.41 65.80C61.10 64.34 54.44 65.17 48.00 65.80C47.10 65.89 46.85 67.20 46.23 67.86C45.67 68.48 45.07 69.06 44.47 69.63C43.89 70.19 43.00 70.51 42.70 71.25C42.45 71.90 42.36 73.04 43.00 73.32Z"/></g><clipPath id="ct11"><rect x="33.292" y="33.251" width="33.292" height="33.375"/></clipPath><g clip-path="url(#ct11)"><path fill="#222222" d="M32.70 67.22C32.76 67.63 33.32 66.65 33.59 66.33C33.91 65.96 34.26 65.59 34.47 65.15C34.73 64.60 34.94 64.00 35.00 63.38C35.05 62.84 34.96 62.27 34.76 61.76C34.57 61.26 34.24 60.82 33.88 60.43C33.55 60.08 32.79 59.07 32.70 59.55C32.27 62.07 32.37 64.68 32.70 67.22Z"/><path fill="#3e3e3e" d="M32.70 57.19C33.10 57.93 34.31 57.70 35.06 58.08C35.69 58.39 36.30 58.78 36.82 59.25C37.39 59.77 37.91 60.36 38.29 61.02C38.71 61.75 38.81 62.63 39.17 63.38C39.40 63.86 39.64 64.38 40.06 64.71C40.37 64.96 40.84 65.11 41.23 65.00C41.81 64.84 42.21 64.31 42.70 63.97C43.29 63.57 43.86 63.15 44.47 62.79C45.13 62.41 45.80 62.02 46.53 61.76C47.43 61.44 49.32 62.04 49.32 61.08C49.32 60.13 47.45 60.70 46.53 60.43C45.83 60.23 45.14 59.97 44.47 59.70C43.67 59.38 42.87 59.07 42.12 58.67C41.49 58.33 40.90 57.93 40.35 57.49C39.81 57.05 39.28 56.58 38.88 56.01C38.44 55.38 38.08 54.68 37.85 53.95C37.58 53.09 37.48 52.19 37.41 51.29C37.33 50.31 37.36 49.33 37.41 48.35C37.46 47.36 37.67 46.39 37.70 45.40C37.72 44.71 37.77 43.99 37.56 43.33C37.41 42.90 37.11 42.44 36.67 42.30C36.32 42.19 35.90 42.47 35.65 42.74C35.27 43.15 35.06 43.69 34.91 44.22C34.61 45.28 34.50 46.38 34.32 47.46C34.11 48.74 34.06 50.04 33.73 51.29C33.52 52.12 32.85 52.81 32.70 53.65C32.50 54.81 32.15 56.15 32.70 57.19Z"/><path fill="#222222" d="M47.70 67.22C47.25 67.19 48.21 66.43 48.59 66.18C49.12 65.83 49.74 65.62 50.35 65.45C51.31 65.17 52.32 65.08 53.29 64.86C54.28 64.63 55.24 64.31 56.23 64.12C57.01 63.97 57.79 63.82 58.58 63.82C59.47 63.82 60.37 63.92 61.23 64.12C62.05 64.31 62.84 64.63 63.58 65.00C64.22 65.32 64.83 65.70 65.35 66.18C65.64 66.45 66.33 67.19 65.94 67.22C59.87 67.57 53.77 67.58 47.70 67.22Z"/><path fill="#272727" d="M46.23 54.77C46.23 55.58 47.79 55.18 48.59 55.27C49.56 55.39 50.55 55.47 51.53 55.42C52.52 55.37 53.49 55.13 54.47 54.98C55.45 54.83 56.42 54.54 57.41 54.54C58.21 54.54 58.99 54.76 59.76 54.98C60.37 55.16 60.93 55.49 61.53 55.72C62.11 55.94 62.67 56.27 63.29 56.31C63.58 56.32 63.96 56.14 64.03 55.86C64.18 55.24 63.93 54.59 63.88 53.95C63.83 53.26 63.71 52.57 63.73 51.88C63.76 51.09 63.81 50.29 64.03 49.53C64.21 48.89 64.52 48.29 64.91 47.76C65.17 47.40 65.55 47.13 65.94 46.93C66.30 46.75 67.08 47.04 67.11 46.64C67.50 41.62 70.34 35.41 67.11 31.54C64.43 28.32 58.67 30.87 54.53 31.54C53.85 31.65 54.39 32.92 54.38 33.60C54.37 34.39 54.37 35.18 54.47 35.96C54.59 36.96 54.80 37.94 55.06 38.91C55.29 39.81 55.64 40.68 55.94 41.57C56.23 42.45 56.58 43.32 56.82 44.22C57.02 44.99 57.21 45.78 57.26 46.58C57.31 47.36 57.27 48.16 57.11 48.94C56.97 49.65 56.76 50.38 56.38 51.00C56.05 51.53 55.56 51.96 55.06 52.33C54.52 52.71 53.91 52.99 53.29 53.21C52.53 53.48 51.73 53.63 50.94 53.80C50.16 53.97 49.37 54.08 48.59 54.24C47.80 54.41 46.23 53.97 46.23 54.77Z"/><path fill="#f2f2f2" d="M58.73 40.09C58.71 40.78 58.71 41.49 58.88 42.15C59.06 42.84 59.36 43.49 59.76 44.07C60.16 44.64 60.66 45.15 61.23 45.55C61.76 45.90 62.37 46.15 63.00 46.28C63.57 46.40 64.19 46.42 64.76 46.28C65.25 46.17 65.83 45.98 66.08 45.55C66.52 44.81 66.51 43.88 66.67 43.04C66.86 42.06 67.04 41.08 67.11 40.09C67.19 39.01 67.56 37.83 67.11 36.85C66.91 36.40 66.11 37.00 65.64 36.85C65.18 36.69 64.76 36.36 64.47 35.96C64.15 35.54 63.93 35.02 63.88 34.49C63.82 33.89 64.66 33.06 64.17 32.72C63.04 31.92 61.28 31.08 60.11 31.84C59.03 32.54 59.83 34.40 59.61 35.67C59.46 36.56 59.20 37.43 59.03 38.32C58.91 38.91 58.75 39.49 58.73 40.09Z"/><path fill="#121212" d="M32.70 38.76C32.91 39.20 33.66 38.49 34.03 38.17C34.43 37.83 34.68 37.33 34.91 36.85C35.11 36.43 35.09 35.93 35.29 35.52C35.53 35.04 35.92 34.64 36.23 34.19C36.58 33.70 37.32 33.32 37.26 32.72C37.22 32.33 36.43 32.54 36.09 32.72C35.63 32.97 35.41 33.52 35.06 33.90C34.77 34.21 34.53 34.56 34.17 34.78C33.73 35.06 32.89 34.88 32.70 35.37C32.31 36.43 32.22 37.74 32.70 38.76Z"/></g><clipPath id="ct12"><rect x="33.292" y="-4.000" width="33.292" height="37.251"/></clipPath><g clip-path="url(#ct12)"><path fill="#2e2e2e" d="M32.70 27.94C33.56 27.94 34.29 27.30 35.06 26.91C35.96 26.46 36.84 25.96 37.70 25.44C38.70 24.83 39.68 24.18 40.64 23.52C41.64 22.85 42.62 22.17 43.59 21.46C44.49 20.79 45.36 20.09 46.23 19.39C47.02 18.76 47.78 18.09 48.59 17.48C49.25 16.96 49.98 16.52 50.64 16.00C51.06 15.68 51.58 15.43 51.82 14.97C52.10 14.44 52.11 13.80 52.11 13.20C52.11 12.41 51.98 11.62 51.82 10.84C51.68 10.14 51.56 9.41 51.23 8.78C50.96 8.26 50.57 7.74 50.06 7.45C49.63 7.21 49.05 7.15 48.59 7.31C48.09 7.47 47.73 7.93 47.41 8.34C47.03 8.82 46.83 9.42 46.53 9.96C46.24 10.46 46.06 11.04 45.64 11.43C45.24 11.81 44.72 12.12 44.17 12.17C43.66 12.22 43.15 11.98 42.70 11.73C42.15 11.43 41.71 10.96 41.23 10.55C40.73 10.12 40.28 9.64 39.76 9.22C39.30 8.85 38.87 8.33 38.29 8.19C37.93 8.10 37.47 8.32 37.26 8.63C36.88 9.18 36.76 9.89 36.67 10.55C36.56 11.43 36.65 12.32 36.67 13.20C36.70 14.19 36.85 15.17 36.82 16.15C36.80 17.14 36.72 18.13 36.53 19.10C36.33 20.11 35.98 21.08 35.65 22.05C35.30 23.05 34.88 24.02 34.47 25.00C34.19 25.64 33.95 26.31 33.59 26.91C33.35 27.30 32.25 27.94 32.70 27.94Z"/><path fill="#595959" d="M32.70 28.83C33.21 28.96 33.88 28.32 33.88 27.80C33.88 27.39 33.01 27.24 32.70 27.50C32.37 27.79 32.28 28.72 32.70 28.83Z"/><path fill="#a6a6a6" d="M36.53 33.84C37.13 33.50 37.51 32.86 38.00 32.37C38.68 31.68 39.51 31.10 40.06 30.30C40.16 30.16 39.77 29.91 39.62 30.01C38.88 30.47 38.33 31.17 37.70 31.78C37.10 32.35 36.35 32.82 35.94 33.55C35.83 33.74 36.34 33.95 36.53 33.84Z"/><path fill="#2e2e2e" d="M54.35 35.02C53.63 34.71 54.41 33.45 54.47 32.66C54.52 31.87 54.61 31.09 54.67 30.30C54.76 29.32 54.82 28.34 54.91 27.35C55.00 26.37 55.13 25.39 55.20 24.41C55.28 23.42 55.30 22.44 55.35 21.46C55.39 20.67 55.37 19.88 55.50 19.10C55.57 18.69 55.52 17.92 55.94 17.92C56.43 17.92 56.50 18.73 56.82 19.10C57.19 19.52 57.64 19.85 58.00 20.28C58.38 20.74 58.80 21.20 59.03 21.75C59.30 22.40 59.37 23.12 59.47 23.82C59.61 24.79 59.64 25.78 59.76 26.76C59.88 27.75 60.10 28.72 60.20 29.71C60.28 30.50 60.32 31.29 60.29 32.07C60.25 33.06 60.88 34.58 60.00 35.02C58.31 35.86 56.08 35.76 54.35 35.02Z"/><path fill="#808080" d="M55.50 18.51C55.35 17.72 55.69 16.91 55.94 16.15C56.14 15.52 56.38 14.87 56.82 14.38C57.20 13.97 57.73 13.61 58.29 13.56C58.90 13.50 59.51 13.81 60.06 14.09C60.65 14.39 61.34 14.69 61.67 15.27C61.84 15.55 61.56 16.18 61.23 16.15C60.63 16.10 60.30 15.39 59.76 15.12C59.30 14.89 58.80 14.62 58.29 14.68C57.87 14.73 57.50 15.07 57.26 15.41C56.94 15.89 56.83 16.48 56.67 17.04C56.54 17.52 56.69 18.12 56.38 18.51C56.20 18.74 55.55 18.80 55.50 18.51Z"/><path fill="#171717" d="M61.53 15.86C61.66 16.36 62.28 16.58 62.70 16.89C63.17 17.22 63.66 17.52 64.17 17.77C64.64 18.01 65.12 18.29 65.64 18.36C65.91 18.40 66.30 18.32 66.38 18.07C66.49 17.73 66.28 17.34 66.08 17.04C65.82 16.63 65.46 16.27 65.06 16.00C64.61 15.72 64.10 15.55 63.58 15.41C63.16 15.30 62.70 15.17 62.26 15.27C61.95 15.33 61.44 15.55 61.53 15.86Z"/><path fill="#3e3e3e" d="M64.76 33.84C64.42 33.64 65.03 33.04 65.35 32.81C65.69 32.56 66.16 32.55 66.58 32.51C66.77 32.50 67.05 32.49 67.11 32.66C67.26 33.03 67.47 33.66 67.11 33.84C66.41 34.19 65.44 34.24 64.76 33.84Z"/><path fill="#2e2e2e" d="M51.23 -0.65C50.45 -0.54 51.74 0.86 52.11 1.56C52.29 1.88 52.52 2.21 52.85 2.35C53.26 2.53 53.73 2.48 54.17 2.44C54.97 2.38 55.74 2.17 56.53 2.06C57.31 1.95 58.09 1.76 58.88 1.76C59.67 1.76 60.47 1.85 61.23 2.06C62.05 2.28 62.84 2.62 63.58 3.03C64.23 3.39 64.78 3.89 65.35 4.36C65.96 4.87 66.85 6.73 67.11 5.98C67.85 3.89 69.15 0.20 67.11 -0.65C62.23 -2.69 56.47 -1.43 51.23 -0.65Z"/><path fill="#272727" d="M32.70 1.26C33.00 1.59 33.54 0.95 33.88 0.67C34.34 0.30 35.45 -0.21 35.06 -0.65C34.54 -1.24 33.31 -1.15 32.70 -0.65C32.21 -0.25 32.28 0.78 32.70 1.26Z"/></g><clipPath id="ct20"><rect x="66.584" y="66.625" width="37.416" height="37.375"/></clipPath><g clip-path="url(#ct20)"><path fill="#2e2e2e" d="M66.00 94.55C66.73 95.53 68.38 95.13 69.53 95.58C70.55 95.97 71.46 96.61 72.47 97.05C73.43 97.48 74.38 97.94 75.41 98.17C76.37 98.39 77.37 98.44 78.35 98.38C79.35 98.31 80.33 98.05 81.29 97.79C82.29 97.51 83.27 97.16 84.23 96.76C85.24 96.33 86.19 95.77 87.17 95.28C87.76 94.99 88.29 94.54 88.94 94.40C89.42 94.29 90.71 94.93 90.41 94.55C89.76 93.74 88.65 93.45 87.76 92.92C87.08 92.52 86.42 92.08 85.70 91.74C85.14 91.48 84.56 91.13 83.94 91.16C83.21 91.18 82.53 91.57 81.88 91.89C81.15 92.26 80.52 92.79 79.82 93.22C79.14 93.63 78.50 94.13 77.76 94.40C77.01 94.67 76.20 94.89 75.41 94.84C74.68 94.79 73.94 94.53 73.35 94.10C72.62 93.57 72.19 92.71 71.58 92.04C71.12 91.53 70.73 90.89 70.11 90.57C69.59 90.29 68.94 90.29 68.35 90.33C67.55 90.39 66.39 90.16 66.00 90.86C65.40 91.93 65.26 93.56 66.00 94.55Z"/><path fill="#222222" d="M89.82 100.59C89.28 100.33 89.91 99.38 90.11 98.82C90.31 98.28 90.64 97.79 90.99 97.35C91.43 96.80 91.93 96.32 92.47 95.87C92.82 95.58 93.18 95.21 93.64 95.14C93.92 95.09 94.31 95.30 94.38 95.58C94.53 96.25 94.31 96.96 94.23 97.64C94.11 98.63 94.61 100.04 93.79 100.59C92.69 101.33 91.01 101.16 89.82 100.59Z"/><path fill="#3e3e3e" d="M95.99 100.59C96.20 101.09 97.35 101.06 97.61 100.59C98.00 99.90 97.32 99.02 97.32 98.23C97.32 97.54 97.40 96.83 97.61 96.17C97.85 95.44 98.17 94.71 98.64 94.10C99.12 93.50 100.27 93.38 100.41 92.63C100.89 90.02 100.83 87.29 100.41 84.67C100.31 84.05 99.38 83.93 98.94 83.49C98.39 82.95 97.84 82.39 97.47 81.72C97.05 80.99 96.79 80.18 96.58 79.36C96.39 78.59 96.39 77.79 96.29 77.00C96.20 76.31 96.30 75.56 95.99 74.94C95.78 74.50 95.27 74.25 94.82 74.06C94.27 73.82 93.65 73.75 93.05 73.70C92.47 73.65 91.86 73.60 91.29 73.76C90.97 73.85 90.61 74.09 90.55 74.41C90.49 74.80 90.76 75.21 90.99 75.53C91.41 76.09 92.04 76.45 92.47 77.00C93.03 77.74 93.56 78.52 93.94 79.36C94.35 80.30 94.59 81.31 94.82 82.31C95.04 83.28 95.23 84.27 95.26 85.26C95.28 86.25 94.99 87.22 94.97 88.21C94.94 89.19 94.99 90.18 95.11 91.16C95.24 92.15 95.53 93.12 95.70 94.10C95.87 95.08 96.10 96.06 96.14 97.05C96.20 98.23 95.54 99.50 95.99 100.59Z"/><path fill="#222222" d="M74.53 74.06C74.53 74.82 75.67 75.08 76.29 75.53C77.14 76.16 78.06 76.70 78.94 77.30C79.92 77.98 80.87 78.71 81.88 79.36C82.84 79.99 83.81 80.60 84.82 81.13C85.58 81.53 86.34 81.94 87.17 82.16C87.84 82.34 88.56 82.45 89.23 82.31C89.61 82.23 90.02 81.95 90.11 81.57C90.25 81.04 90.02 80.46 89.82 79.95C89.52 79.22 89.07 78.55 88.64 77.89C88.19 77.18 87.69 76.49 87.17 75.82C86.61 75.11 86.03 74.41 85.41 73.76C84.85 73.18 84.30 72.59 83.64 72.14C83.30 71.91 82.88 71.73 82.47 71.76C81.85 71.79 81.28 72.09 80.70 72.29C79.91 72.56 79.15 72.93 78.35 73.17C77.68 73.37 76.97 73.45 76.29 73.61C75.70 73.75 74.53 73.45 74.53 74.06Z"/><path fill="#737373" d="M74.67 74.35C74.17 74.22 73.92 73.61 73.64 73.17C73.23 72.52 72.86 71.83 72.61 71.11C72.35 70.35 72.17 69.55 72.11 68.75C72.05 67.87 71.95 66.93 72.23 66.09C72.31 65.85 72.93 65.85 73.00 66.09C73.22 66.95 72.84 67.87 72.94 68.75C73.02 69.46 73.26 70.15 73.53 70.81C73.77 71.43 74.09 72.03 74.47 72.58C74.73 72.97 75.35 73.15 75.41 73.61C75.45 73.96 75.01 74.43 74.67 74.35Z"/><path fill="#222222" d="M90.99 66.09C90.32 66.24 90.75 67.48 90.85 68.16C90.95 68.88 91.16 69.63 91.58 70.22C91.93 70.71 92.46 71.15 93.05 71.25C93.65 71.36 94.26 71.05 94.82 70.81C95.55 70.50 96.20 70.04 96.88 69.63C97.57 69.21 98.23 68.72 98.94 68.31C99.41 68.03 100.10 68.03 100.41 67.57C100.68 67.16 100.89 66.17 100.41 66.09C97.31 65.61 94.06 65.43 90.99 66.09Z"/><path fill="#222222" d="M66.00 70.22C66.15 70.60 66.86 70.19 67.17 69.93C67.51 69.65 67.74 69.19 67.76 68.75C67.79 68.24 67.68 67.64 67.32 67.27C67.00 66.95 66.18 66.57 66.00 66.98C65.55 67.97 65.60 69.22 66.00 70.22Z"/><path fill="#4c4c4c" d="M65.70 80.25C66.45 80.68 66.89 78.98 67.47 78.33C67.97 77.75 68.47 77.17 68.94 76.56C69.41 75.94 70.04 75.39 70.26 74.64C70.33 74.41 69.74 74.47 69.53 74.59C68.96 74.89 68.57 75.45 68.05 75.82C67.59 76.16 67.07 76.40 66.58 76.71C66.28 76.90 65.79 76.96 65.70 77.30C65.46 78.25 64.85 79.75 65.70 80.25Z"/></g><clipPath id="ct21"><rect x="66.584" y="33.251" width="37.416" height="33.375"/></clipPath><g clip-path="url(#ct21)"><path fill="#393939" d="M76.88 65.00C77.08 65.45 77.89 65.04 78.35 64.86C78.90 64.63 79.40 64.25 79.82 63.82C80.29 63.35 80.72 62.81 81.00 62.20C81.42 61.27 81.58 60.24 81.88 59.25C82.17 58.27 82.42 57.27 82.76 56.31C83.11 55.31 83.57 54.35 83.94 53.36C84.30 52.38 84.65 51.40 84.97 50.41C85.24 49.53 85.57 48.66 85.70 47.76C85.82 46.98 85.85 46.17 85.70 45.40C85.55 44.57 85.19 43.79 84.82 43.04C84.41 42.21 83.90 41.43 83.35 40.68C82.81 39.95 82.20 39.28 81.58 38.62C80.92 37.90 80.25 37.20 79.52 36.55C78.97 36.06 78.41 35.58 77.76 35.23C77.22 34.93 76.61 34.69 76.00 34.64C75.40 34.59 74.70 34.56 74.23 34.93C73.99 35.13 74.28 35.62 74.53 35.82C75.03 36.21 75.73 36.25 76.29 36.55C76.91 36.89 77.51 37.28 78.05 37.73C78.69 38.27 79.26 38.89 79.82 39.50C80.34 40.07 80.89 40.62 81.29 41.27C81.68 41.91 82.04 42.60 82.17 43.33C82.29 44.01 82.16 44.72 82.02 45.40C81.86 46.21 81.54 46.97 81.29 47.76C81.00 48.64 80.69 49.52 80.41 50.41C80.10 51.39 79.82 52.38 79.52 53.36C79.23 54.34 78.94 55.32 78.64 56.31C78.35 57.29 78.01 58.26 77.76 59.25C77.52 60.23 77.32 61.21 77.17 62.20C77.03 63.13 76.50 64.15 76.88 65.00Z"/><path fill="#545454" d="M78.35 35.96C78.23 36.67 77.00 36.55 76.29 36.55C75.67 36.55 75.13 36.08 74.53 35.96C73.85 35.83 73.15 35.77 72.47 35.82C71.77 35.87 71.09 36.09 70.41 36.26C69.72 36.43 69.06 36.79 68.35 36.85C67.75 36.89 67.17 36.68 66.58 36.55C66.28 36.49 65.76 36.56 65.70 36.26C65.43 34.91 65.37 33.47 65.70 32.13C65.79 31.79 66.29 32.52 66.58 32.72C67.17 33.11 67.71 33.60 68.35 33.90C69.00 34.20 69.70 34.41 70.41 34.49C71.09 34.56 71.78 34.35 72.47 34.34C73.25 34.33 74.04 34.34 74.82 34.43C75.42 34.50 76.03 34.60 76.58 34.84C77.22 35.12 78.47 35.28 78.35 35.96Z"/><path fill="#666666" d="M72.17 67.04C73.08 67.13 73.97 66.72 74.82 66.39C75.56 66.10 76.34 65.79 76.88 65.21C77.05 65.02 76.84 64.47 76.58 64.50C75.83 64.60 75.25 65.26 74.53 65.51C73.67 65.79 72.64 65.60 71.88 66.09C71.60 66.27 71.84 67.01 72.17 67.04Z"/><path fill="#1e1e1e" d="M66.00 46.43C66.38 46.88 67.18 46.39 67.76 46.28C68.46 46.15 69.18 46.01 69.82 45.69C70.57 45.31 71.21 44.73 71.88 44.22C72.49 43.75 73.05 43.23 73.64 42.74C74.13 42.35 74.75 42.07 75.11 41.57C75.41 41.15 75.55 40.60 75.55 40.09C75.55 39.48 75.41 38.85 75.11 38.32C74.85 37.84 74.42 37.41 73.94 37.14C73.41 36.85 72.78 36.75 72.17 36.70C71.49 36.65 70.78 36.69 70.11 36.85C69.49 36.99 68.79 37.12 68.35 37.58C67.88 38.08 67.79 38.84 67.61 39.50C67.35 40.47 67.35 41.50 67.03 42.45C66.80 43.09 66.17 43.56 66.00 44.22C65.81 44.93 65.52 45.87 66.00 46.43Z"/><path fill="#2e2e2e" d="M90.99 67.22C90.39 67.09 91.29 65.99 91.58 65.45C91.98 64.70 92.54 64.05 93.05 63.38C93.52 62.77 94.03 62.20 94.52 61.61C95.01 61.02 95.45 60.39 95.99 59.84C96.44 59.40 96.93 58.99 97.47 58.67C97.92 58.39 98.42 58.20 98.94 58.08C99.41 57.96 100.33 57.44 100.41 57.93C100.90 60.98 102.61 65.04 100.41 67.22C98.17 69.42 94.07 67.83 90.99 67.22Z"/><path fill="#d9d9d9" d="M100.41 66.04C100.27 66.52 99.36 66.01 98.94 65.74C98.52 65.48 98.17 65.04 98.05 64.56C97.91 63.99 98.00 63.35 98.20 62.79C98.40 62.23 98.79 61.73 99.23 61.32C99.55 61.02 100.30 60.30 100.41 60.73C100.83 62.45 100.90 64.34 100.41 66.04Z"/><path fill="#171717" d="M89.67 43.33C89.70 43.75 89.84 44.19 90.11 44.51C90.41 44.87 90.85 45.10 91.29 45.25C91.76 45.41 92.27 45.46 92.76 45.40C93.09 45.36 93.56 45.27 93.64 44.96C93.75 44.55 93.44 44.12 93.20 43.78C92.94 43.41 92.57 43.11 92.17 42.89C91.77 42.66 91.31 42.51 90.85 42.45C90.55 42.41 90.20 42.42 89.97 42.60C89.75 42.76 89.65 43.07 89.67 43.33Z"/><path fill="#bfbfbf" d="M93.49 45.10C94.19 45.71 95.22 45.78 95.99 46.28C97.05 46.97 97.85 48.00 98.94 48.64C99.09 48.73 99.34 48.33 99.23 48.20C98.37 47.20 97.37 46.31 96.29 45.55C95.54 45.01 94.70 44.51 93.79 44.37C93.53 44.32 93.30 44.93 93.49 45.10Z"/><path fill="#3e3e3e" d="M86.58 37.88C87.06 38.40 87.94 38.24 88.64 38.32C89.62 38.44 90.60 38.40 91.58 38.47C92.57 38.54 93.55 38.64 94.52 38.76C95.51 38.89 96.48 39.06 97.47 39.21C98.45 39.35 100.00 40.55 100.41 39.65C101.36 37.55 102.41 33.87 100.41 32.72C96.92 30.72 92.31 32.07 88.35 32.72C87.64 32.84 87.99 34.11 87.76 34.78C87.55 35.39 87.25 35.96 87.02 36.55C86.86 36.99 86.27 37.54 86.58 37.88Z"/></g><clipPath id="ct22"><rect x="66.584" y="-4.000" width="37.416" height="37.251"/></clipPath><g clip-path="url(#ct22)"><path fill="#4c4c4c" d="M65.70 34.14C66.96 34.68 68.52 34.59 69.82 34.14C70.31 33.96 69.11 33.34 68.64 33.10C68.00 32.78 67.28 32.66 66.58 32.48C66.30 32.41 65.84 32.10 65.70 32.37C65.42 32.89 65.16 33.90 65.70 34.14Z"/><path fill="#3e3e3e" d="M88.49 33.84C87.36 33.51 88.45 31.48 88.35 30.30C88.26 29.31 88.04 28.34 87.91 27.35C87.77 26.37 88.02 25.26 87.52 24.41C87.10 23.69 86.15 23.45 85.41 23.08C84.66 22.71 83.87 22.40 83.05 22.19C82.29 22.00 81.49 21.89 80.70 21.90C79.91 21.91 79.14 22.30 78.35 22.28C77.74 22.27 77.11 22.12 76.58 21.81C76.17 21.57 75.84 21.16 75.64 20.72C75.38 20.12 75.39 19.44 75.26 18.80C75.12 18.12 74.96 17.43 74.82 16.74C74.66 15.96 74.46 15.18 74.38 14.38C74.32 13.80 74.23 13.18 74.38 12.61C74.49 12.20 74.72 11.74 75.11 11.58C75.57 11.40 76.14 11.51 76.58 11.73C77.08 11.98 77.44 12.45 77.76 12.91C78.14 13.45 78.31 14.11 78.64 14.68C79.00 15.29 79.37 15.90 79.82 16.45C80.26 16.98 80.70 17.55 81.29 17.92C81.81 18.25 82.44 18.40 83.05 18.51C83.83 18.65 84.63 18.55 85.41 18.66C86.01 18.74 86.64 18.80 87.17 19.10C87.64 19.36 88.12 19.76 88.29 20.28C88.63 21.31 88.44 22.45 88.64 23.52C88.76 24.13 88.94 24.74 89.23 25.29C89.63 26.03 90.10 26.76 90.70 27.35C91.39 28.05 92.20 28.65 93.05 29.12C93.98 29.64 94.98 29.99 95.99 30.30C96.76 30.54 97.57 30.56 98.35 30.74C99.04 30.91 100.01 30.74 100.41 31.33C100.87 32.03 101.22 33.67 100.41 33.84C96.52 34.66 92.30 34.96 88.49 33.84Z"/><path fill="#8c8c8c" d="M87.52 24.41C88.02 25.26 88.01 26.37 87.91 27.35C87.88 27.67 87.38 28.18 87.17 27.94C86.69 27.41 86.92 26.51 86.58 25.88C86.22 25.20 85.70 24.60 85.11 24.11C84.51 23.60 83.80 23.20 83.05 22.93C82.31 22.66 81.43 22.81 80.70 22.49C80.52 22.41 80.51 21.92 80.70 21.90C81.49 21.80 82.29 22.00 83.05 22.19C83.87 22.40 84.66 22.71 85.41 23.08C86.15 23.45 87.10 23.69 87.52 24.41Z"/><path fill="#1c1c1c" d="M74.67 14.09C74.67 14.60 74.77 15.18 75.11 15.56C75.39 15.86 75.90 15.95 76.29 15.86C76.77 15.74 77.31 15.44 77.47 14.97C77.65 14.40 77.39 13.76 77.17 13.20C76.99 12.75 76.70 12.29 76.29 12.02C75.96 11.81 75.36 11.56 75.11 11.88C74.65 12.47 74.67 13.34 74.67 14.09Z"/><path fill="#666666" d="M78.64 26.47C78.23 26.26 77.91 27.06 77.47 27.21C77.00 27.36 76.49 27.35 76.00 27.35C75.31 27.35 74.61 27.34 73.94 27.21C73.33 27.09 72.72 26.92 72.17 26.62C71.72 26.37 71.33 25.98 71.00 25.59C70.54 25.04 70.17 24.43 69.82 23.82C69.44 23.15 69.15 22.43 68.79 21.75C68.47 21.15 68.16 20.53 67.76 19.98C67.23 19.25 66.78 18.38 66.00 17.92C65.70 17.75 65.84 18.64 66.00 18.95C66.26 19.48 66.83 19.80 67.17 20.28C67.57 20.83 67.88 21.45 68.20 22.05C68.57 22.72 68.85 23.44 69.23 24.11C69.58 24.73 69.95 25.34 70.41 25.88C70.79 26.33 71.22 26.76 71.73 27.06C72.32 27.41 72.98 27.65 73.64 27.80C74.41 27.97 75.21 28.03 76.00 28.00C76.79 27.98 77.66 28.05 78.35 27.65C78.70 27.45 79.00 26.65 78.64 26.47Z"/><path fill="#1e1e1e" d="M78.35 26.62C78.29 27.03 78.58 27.50 78.94 27.71C79.45 28.01 80.11 27.99 80.70 28.00C81.29 28.02 81.92 28.03 82.47 27.80C82.82 27.64 83.12 27.29 83.20 26.91C83.29 26.52 83.14 26.07 82.91 25.73C82.67 25.39 82.28 25.12 81.88 25.00C81.41 24.86 80.88 24.88 80.41 25.00C79.97 25.10 79.58 25.37 79.23 25.64C78.89 25.92 78.41 26.18 78.35 26.62Z"/><path fill="#323232" d="M66.00 6.42C66.16 7.24 67.15 7.63 67.76 8.19C68.23 8.61 68.69 9.05 69.23 9.37C69.68 9.64 70.17 9.96 70.70 9.96C71.23 9.96 71.73 9.66 72.17 9.37C72.63 9.06 72.98 8.61 73.35 8.19C73.77 7.72 74.13 7.21 74.53 6.72C74.92 6.23 75.28 5.71 75.70 5.24C76.07 4.83 76.39 4.33 76.88 4.06C77.31 3.82 77.86 3.66 78.35 3.77C78.83 3.87 79.22 4.26 79.52 4.65C79.93 5.17 80.11 5.83 80.41 6.42C80.70 7.01 80.96 7.62 81.29 8.19C81.65 8.80 82.02 9.41 82.47 9.96C82.90 10.50 83.38 11.02 83.94 11.43C84.47 11.82 85.07 12.13 85.70 12.32C86.27 12.48 86.89 12.58 87.47 12.47C87.92 12.37 88.33 12.07 88.64 11.73C89.03 11.31 89.21 10.73 89.52 10.25C89.80 9.85 90.01 9.37 90.41 9.08C90.83 8.76 91.35 8.53 91.88 8.49C92.47 8.43 93.10 8.53 93.64 8.78C94.21 9.04 94.72 9.47 95.11 9.96C95.52 10.47 95.79 11.10 95.99 11.73C96.24 12.49 96.37 13.29 96.44 14.09C96.51 14.97 96.41 15.86 96.44 16.74C96.46 17.43 96.41 18.14 96.58 18.80C96.66 19.11 96.88 19.42 97.17 19.54C97.63 19.72 98.15 19.64 98.64 19.63C99.23 19.61 100.27 20.03 100.41 19.45C100.97 17.04 100.67 14.49 100.41 12.02C100.36 11.64 99.78 11.57 99.52 11.29C99.08 10.78 98.81 10.15 98.35 9.66C97.82 9.11 97.24 8.59 96.58 8.19C95.95 7.80 95.22 7.57 94.52 7.31C93.95 7.08 93.29 7.04 92.76 6.72C92.28 6.43 91.81 6.04 91.58 5.54C91.38 5.09 91.44 4.53 91.58 4.06C91.75 3.51 92.21 3.10 92.47 2.59C92.70 2.12 92.91 1.62 93.05 1.11C93.22 0.54 93.77 -0.17 93.41 -0.65C93.07 -1.10 92.15 -1.02 91.73 -0.65C91.18 -0.18 91.30 0.75 90.99 1.41C90.76 1.93 90.45 2.42 90.11 2.88C89.76 3.36 89.44 3.91 88.94 4.21C88.42 4.52 87.78 4.65 87.17 4.65C86.57 4.65 85.98 4.41 85.41 4.21C84.60 3.92 83.85 3.50 83.05 3.18C82.28 2.86 81.47 2.63 80.70 2.29C79.90 1.94 79.08 1.60 78.35 1.11C77.60 0.61 77.19 -0.53 76.29 -0.65C72.89 -1.14 68.82 -2.60 66.00 -0.65C64.05 0.68 65.53 4.11 66.00 6.42Z"/><path fill="#f2f2f2" d="M69.08 0.82C69.13 1.24 69.24 1.69 69.53 2.00C69.82 2.32 70.27 2.54 70.70 2.59C71.20 2.64 71.76 2.57 72.17 2.29C72.56 2.04 72.77 1.56 72.91 1.11C73.08 0.55 73.59 -0.40 73.05 -0.65C71.91 -1.21 70.43 -1.10 69.23 -0.65C68.77 -0.48 69.03 0.33 69.08 0.82Z"/></g></g>
</defs>
<rect width="1300" height="1132" fill="#fff"/>
<g transform="translate(116.00,477.50) scale(4.0550,-4.0450)"><g clip-path="url(#cpo)"><g filter="url(#fv)"><use href="#field"/></g></g></g>
<g transform="translate(761.00,477.50) scale(4.0600,-4.0450)"><g clip-path="url(#cpo)"><g filter="url(#fb)"><use href="#field"/></g></g></g>
<clipPath id="cps"><rect x="761.0" y="73.0" width="406.0" height="404.5"/></clipPath><g clip-path="url(#cps)"><path d="M763.69 77.48C766.38 78.08 769.36 77.93 771.76 79.28C774.34 80.73 776.62 82.96 778.04 85.55C779.83 88.82 780.78 92.60 781.08 96.31C781.38 99.91 780.62 103.55 779.83 107.07C779.00 110.76 777.93 114.45 776.24 117.83C774.61 121.10 771.99 123.76 769.97 126.80C768.40 129.14 766.28 131.27 765.48 133.97C764.55 137.13 765.12 140.55 764.95 143.83M806.19 75.69C805.77 78.98 805.76 82.34 804.94 85.55C804.13 88.67 802.73 91.61 801.35 94.52C800.03 97.30 797.93 99.70 796.87 102.59C795.81 105.45 795.70 108.57 795.07 111.56C794.38 114.85 793.84 118.18 792.92 121.42C792.05 124.47 790.65 127.35 789.69 130.39C788.67 133.64 787.98 136.98 787.00 140.25C786.19 142.96 785.99 146.03 784.31 148.32C782.55 150.73 779.75 152.25 777.14 153.70C774.33 155.26 771.20 156.20 768.17 157.28C766.53 157.87 764.83 158.24 763.15 158.72M818.03 93.08C822.93 92.07 827.89 91.29 832.73 90.04C837.58 88.78 842.27 86.97 847.08 85.55C851.84 84.16 856.58 82.67 861.42 81.61C866.16 80.57 870.94 79.62 875.77 79.28C879.35 79.02 883.01 79.10 886.53 79.81C888.97 80.31 891.07 81.85 893.34 82.86M961.85 75.69C954.67 77.48 947.42 78.99 940.33 81.07C934.56 82.76 929.27 86.39 923.29 86.99C919.85 87.33 916.78 82.89 913.43 83.76C910.54 84.51 909.39 88.26 908.05 90.93C906.36 94.31 906.34 98.41 904.46 101.69C902.68 104.82 900.10 107.51 897.29 109.76C894.05 112.36 890.27 114.23 886.53 116.04C882.47 118.00 878.36 120.03 873.98 121.06C868.12 122.44 862.06 123.00 856.04 123.21C850.06 123.42 844.09 122.67 838.11 122.32C832.13 121.96 826.17 121.28 820.18 121.06C814.80 120.86 809.42 121.06 804.04 121.06M825.20 155.85C825.02 153.94 824.45 152.02 824.66 150.11C824.87 148.23 825.32 146.24 826.45 144.73C827.26 143.66 828.74 142.65 830.04 142.94C831.91 143.35 833.17 145.17 834.52 146.52C837.07 149.07 839.23 151.97 841.70 154.59C844.02 157.06 846.40 159.45 848.87 161.77C851.19 163.94 853.43 166.24 856.04 168.04C858.25 169.56 860.59 171.14 863.22 171.63C865.59 172.07 868.13 171.58 870.39 170.73C873.03 169.74 875.57 168.24 877.56 166.25C880.14 163.67 882.34 160.61 883.84 157.28C885.09 154.50 885.46 151.36 885.63 148.32C885.77 145.91 885.44 143.45 884.74 141.14C883.93 138.49 882.35 136.12 881.15 133.61M834.88 157.28C834.17 160.87 833.85 164.56 832.73 168.04C831.63 171.48 829.99 174.74 828.25 177.91C826.69 180.74 824.51 183.19 822.87 185.98C821.51 188.28 819.66 190.50 819.28 193.15C819.01 195.02 819.53 197.45 821.08 198.53C823.59 200.29 826.99 200.32 830.04 200.68C834.50 201.22 839.01 201.02 843.49 201.22C849.47 201.49 855.45 201.75 861.42 202.12C865.31 202.35 869.31 203.99 873.08 203.01C875.02 202.51 876.21 200.13 876.67 198.17C877.29 195.49 875.46 192.60 876.13 189.92C876.72 187.54 878.43 185.47 880.25 183.83C882.30 181.97 884.84 180.67 887.43 179.70C890.17 178.67 893.17 178.51 896.03 177.91M904.46 180.60C910.44 180.90 916.41 181.40 922.40 181.49C928.37 181.58 934.35 181.25 940.33 181.14M779.83 161.77C778.04 163.86 775.69 165.59 774.45 168.04C773.06 170.80 772.35 173.93 772.12 177.01C771.92 179.72 773.19 182.37 773.19 185.08C773.19 187.50 772.90 189.97 772.12 192.25C771.50 194.06 770.60 195.96 769.07 197.10C767.41 198.32 765.12 198.29 763.15 198.89M793.28 184.54C795.25 185.92 797.63 186.85 799.20 188.67C800.72 190.43 801.79 192.66 802.25 194.94C802.54 196.44 802.51 198.44 801.35 199.43C799.43 201.05 796.56 200.95 794.18 201.76C791.78 202.57 789.26 203.11 787.00 204.27C784.91 205.35 782.68 206.51 781.26 208.39C780.15 209.87 780.31 211.98 779.83 213.77M812.11 196.74C810.91 198.05 809.31 199.09 808.52 200.68C807.63 202.49 806.95 204.61 807.27 206.60C807.59 208.64 808.68 210.72 810.32 211.98C812.04 213.31 814.42 213.77 816.59 213.77C818.48 213.77 820.18 212.58 821.97 211.98C823.77 211.38 825.50 210.58 827.35 210.19C829.71 209.68 832.12 209.20 834.52 209.29C836.96 209.38 839.46 209.76 841.70 210.72C843.74 211.60 845.62 212.99 847.08 214.67C848.39 216.19 849.60 218.05 849.77 220.05C849.92 221.93 849.23 224.02 847.97 225.43C846.64 226.93 844.58 227.85 842.59 228.12C840.77 228.36 838.79 227.81 837.21 226.86C835.65 225.93 834.24 224.46 833.63 222.74C833.13 221.32 833.49 219.60 834.17 218.26C834.77 217.04 835.91 215.92 837.21 215.57C838.40 215.24 839.78 215.78 840.80 216.46C841.70 217.06 842.59 218.08 842.59 219.15C842.59 220.23 841.40 220.95 840.80 221.84M940.33 135.77C938.24 137.08 936.45 139.11 934.05 139.71C931.44 140.36 928.63 139.83 925.98 139.35C922.91 138.80 919.92 137.79 917.02 136.66C914.52 135.69 912.23 134.27 909.84 133.08M906.26 145.63C908.65 147.72 911.05 149.80 913.43 151.90C916.13 154.29 918.95 156.53 921.50 159.08C923.75 161.32 925.94 163.66 927.78 166.25C929.55 168.76 930.88 171.57 932.26 174.32C933.28 176.36 934.05 178.51 934.95 180.60M942.12 145.63C942.72 148.32 943.09 151.07 943.92 153.70C944.88 156.77 946.06 159.79 947.50 162.66C949.06 165.78 950.95 168.73 952.88 171.63C954.54 174.12 956.28 176.57 958.26 178.80C960.00 180.77 962.09 182.39 964.00 184.18M957.90 116.04C957.13 119.03 955.97 121.94 955.57 125.01C955.19 127.97 955.13 131.02 955.57 133.97C956.03 137.06 956.93 140.11 958.26 142.94C959.77 146.15 962.09 148.92 964.00 151.90M941.23 89.14C941.40 92.73 941.93 96.31 941.76 99.90C941.63 102.63 940.81 105.28 940.33 107.97M960.95 104.38C958.86 105.88 956.98 107.73 954.67 108.87C952.44 109.97 949.99 111.17 947.50 111.02C944.91 110.86 942.66 109.12 940.33 107.97C938.77 107.20 937.34 106.18 935.85 105.28M936.74 189.56C938.24 192.55 939.98 195.43 941.23 198.53C942.27 201.13 943.71 203.80 943.56 206.60C943.40 209.49 941.40 211.98 940.33 214.67M925.09 202.12C923.89 200.92 923.03 199.24 921.50 198.53C919.00 197.38 916.18 196.59 913.43 196.74C910.31 196.90 907.15 197.84 904.46 199.43C901.91 200.93 899.89 203.29 898.19 205.70C896.26 208.43 895.20 211.68 893.70 214.67M918.81 206.60C918.21 209.89 917.64 213.18 917.02 216.46C916.33 220.06 915.47 223.61 914.86 227.22C914.27 230.79 913.97 234.40 913.43 237.98C912.89 241.58 913.14 245.43 911.64 248.74C910.05 252.23 907.32 255.17 904.46 257.71C901.86 260.02 898.28 261.00 895.50 263.09C893.47 264.61 891.23 266.19 890.12 268.47C889.01 270.74 889.52 273.49 889.22 276.00M925.98 224.53C928.37 224.83 930.82 224.84 933.16 225.43C935.63 226.05 938.04 226.98 940.33 228.12C942.26 229.08 944.11 230.26 945.71 231.71C947.13 232.99 948.10 234.69 949.30 236.19M964.00 237.09C959.10 237.68 954.11 237.77 949.30 238.88C944.97 239.88 940.72 241.38 936.74 243.36C932.89 245.29 929.11 247.57 925.98 250.54C923.33 253.04 921.34 256.24 919.71 259.50C918.31 262.29 917.52 265.39 917.02 268.47C916.61 270.95 917.02 273.49 917.02 276.00M920.60 265.78C922.40 266.67 924.00 268.18 925.98 268.47C928.37 268.81 930.86 268.29 933.16 267.57C935.71 266.77 937.88 265.06 940.33 263.98C942.67 262.96 945.06 262.06 947.50 261.30C949.85 260.56 952.28 260.10 954.67 259.50C957.07 258.90 959.46 258.31 961.85 257.71M763.69 216.46C767.58 216.76 771.54 216.51 775.35 217.36C779.68 218.32 783.93 219.86 787.90 221.84C791.75 223.77 795.61 225.97 798.66 229.02C801.71 232.06 804.03 235.86 805.83 239.78C807.66 243.73 808.69 248.04 809.42 252.33C810.02 255.87 809.94 259.50 809.78 263.09C809.64 266.10 808.94 269.07 808.52 272.05M769.97 220.95C768.77 222.44 766.84 223.57 766.38 225.43C765.87 227.48 766.19 229.89 767.28 231.71C768.17 233.20 770.27 233.50 771.76 234.40M763.69 252.33C765.48 254.72 767.51 256.95 769.07 259.50C770.81 262.35 772.36 265.34 773.55 268.47C774.47 270.88 774.75 273.49 775.35 276.00M838.11 239.78C840.50 242.17 843.04 244.42 845.28 246.95C847.83 249.81 850.26 252.78 852.46 255.92C854.46 258.77 856.14 261.83 857.84 264.88C859.14 267.22 859.75 269.97 861.42 272.05C862.82 273.79 865.01 274.68 866.80 276.00M838.11 247.85C839.31 250.54 840.38 253.28 841.70 255.92C843.37 259.26 845.55 262.36 847.08 265.78C848.55 269.08 849.47 272.59 850.66 276.00M867.70 225.43C869.79 227.82 871.94 230.16 873.98 232.60C876.43 235.54 878.96 238.43 881.15 241.57C883.15 244.42 885.10 247.36 886.53 250.54C887.81 253.38 888.67 256.43 889.22 259.50C889.75 262.45 889.58 265.48 889.76 268.47M822.87 254.12C823.77 257.11 824.66 260.10 825.56 263.09C826.45 266.08 827.35 269.07 828.25 272.05M968.48 85.55C968.18 84.06 967.13 82.52 967.59 81.07C968.13 79.33 969.42 77.45 971.17 76.95C974.05 76.12 977.18 77.00 980.14 77.48C983.79 78.08 987.21 80.02 990.90 80.17C994.53 80.32 998.06 78.92 1001.66 78.38C1004.04 78.02 1006.50 76.86 1008.83 77.48C1011.32 78.15 1013.59 79.89 1015.11 81.97C1017.01 84.56 1017.50 87.94 1018.70 90.93M970.28 88.24C974.16 92.13 977.97 96.09 981.93 99.90C986.05 103.86 990.15 107.84 994.49 111.56C998.53 115.02 1002.51 118.63 1007.04 121.42C1010.35 123.46 1014.01 125.06 1017.80 125.90C1019.57 126.30 1022.21 126.55 1023.18 125.01C1024.30 123.21 1023.18 120.64 1022.28 118.73C1021.02 116.02 1018.86 113.81 1016.90 111.56C1014.96 109.32 1012.72 107.37 1010.63 105.28M975.66 103.49C973.86 104.98 971.43 105.94 970.28 107.97C969.08 110.08 968.72 112.73 969.02 115.14C969.34 117.72 970.41 120.31 972.07 122.32C974.24 124.94 977.12 127.01 980.14 128.59C983.49 130.35 987.35 130.89 990.90 132.18C993.92 133.28 997.12 134.09 999.87 135.77C1002.58 137.42 1004.66 139.93 1007.04 142.04C1010.04 144.71 1013.09 147.34 1016.01 150.11C1019.07 153.02 1021.83 156.25 1024.97 159.08C1027.82 161.64 1030.88 163.95 1033.94 166.25C1036.86 168.44 1040.06 170.25 1042.90 172.53C1046.04 175.04 1049.12 177.67 1051.87 180.60C1053.92 182.77 1056.14 185.00 1057.25 187.77C1058.60 191.15 1057.80 195.11 1059.04 198.53C1060.24 201.81 1062.11 204.89 1064.42 207.50C1066.97 210.36 1070.40 212.28 1073.39 214.67C1076.38 217.06 1079.93 218.88 1082.36 221.84C1085.41 225.57 1087.51 230.02 1089.53 234.40C1091.11 237.83 1091.92 241.57 1093.12 245.16M1042.90 74.79C1044.10 76.59 1044.74 78.92 1046.49 80.17C1049.11 82.04 1052.37 82.86 1055.46 83.76C1059.57 84.96 1063.83 85.55 1068.01 86.45C1072.19 87.35 1076.37 88.27 1080.56 89.14C1083.55 89.76 1086.51 90.52 1089.53 90.93C1093.10 91.42 1096.70 91.61 1100.29 91.83C1104.47 92.09 1108.66 92.53 1112.84 92.37C1116.46 92.23 1120.12 91.91 1123.60 90.93C1125.13 90.50 1126.23 89.14 1127.55 88.24M1028.20 75.69C1027.84 78.38 1026.44 81.13 1027.12 83.76C1027.85 86.59 1030.47 88.54 1032.14 90.93M1096.70 78.38C1099.09 78.98 1101.45 79.77 1103.88 80.17C1106.84 80.67 1109.88 81.56 1112.84 81.07C1115.48 80.63 1117.76 78.92 1120.02 77.48C1121.09 76.80 1121.81 75.69 1122.71 74.79M1129.88 76.59C1131.97 78.98 1133.63 81.83 1136.16 83.76C1138.81 85.79 1142.07 86.89 1145.12 88.24C1147.46 89.28 1150.98 88.74 1152.30 90.93C1154.15 94.02 1153.33 98.10 1153.19 101.69C1153.03 105.92 1151.85 110.04 1151.40 114.25C1150.95 118.42 1150.14 122.62 1150.50 126.80C1150.75 129.62 1151.28 132.78 1153.19 134.87C1154.92 136.75 1157.82 137.39 1160.36 137.56C1162.65 137.71 1164.79 136.36 1167.00 135.77M1041.11 102.59C1042.01 104.38 1042.52 106.43 1043.80 107.97C1045.57 110.09 1047.71 111.93 1050.08 113.35C1052.27 114.66 1054.73 115.66 1057.25 116.04C1060.80 116.57 1064.43 115.90 1068.01 116.04C1072.20 116.20 1076.45 116.11 1080.56 116.94C1084.88 117.80 1088.93 119.69 1093.12 121.06M1086.84 108.87C1089.53 110.66 1092.55 112.04 1094.91 114.25C1097.09 116.28 1099.29 118.60 1100.29 121.42C1101.29 124.24 1101.09 127.43 1100.65 130.39C1100.18 133.51 1098.94 136.49 1097.60 139.35C1096.12 142.51 1094.34 145.55 1092.22 148.32C1090.42 150.67 1088.39 152.92 1085.94 154.59C1082.63 156.86 1078.96 158.62 1075.18 159.97C1071.73 161.21 1068.09 162.15 1064.42 162.31C1060.81 162.46 1057.05 162.16 1053.66 160.87C1050.87 159.81 1048.28 157.88 1046.49 155.49C1044.56 152.92 1043.92 149.58 1042.90 146.52C1042.13 144.19 1042.03 141.64 1041.11 139.35C1040.22 137.11 1038.72 135.17 1037.52 133.08M1069.80 133.97C1070.70 135.77 1071.82 137.46 1072.49 139.35C1073.32 141.67 1074.44 144.06 1074.29 146.52C1074.13 149.07 1073.35 151.84 1071.60 153.70C1069.79 155.60 1066.98 156.35 1064.42 156.93C1062.09 157.45 1059.63 157.20 1057.25 156.93C1055.41 156.72 1053.66 155.97 1051.87 155.49M1136.16 116.04C1133.76 115.14 1131.51 113.73 1128.98 113.35C1126.61 112.99 1124.01 112.94 1121.81 113.89C1119.59 114.84 1117.74 116.70 1116.43 118.73C1115.25 120.56 1114.35 122.85 1114.64 125.01C1114.99 127.66 1117.03 129.79 1118.22 132.18C1119.42 134.57 1120.61 136.96 1121.81 139.35M995.38 145.63C992.09 147.12 988.88 148.80 985.52 150.11C982.00 151.49 978.42 152.77 974.76 153.70C971.83 154.44 968.78 154.65 965.79 155.13M1020.49 160.51C1018.99 162.43 1017.72 164.53 1016.01 166.25C1014.11 168.15 1012.07 169.97 1009.73 171.27C1006.63 172.99 1003.28 174.27 999.87 175.22C996.36 176.19 992.73 176.68 989.11 177.01C986.13 177.28 983.13 177.01 980.14 177.01M1007.94 183.29C1012.42 182.39 1016.90 181.47 1021.39 180.60C1026.16 179.67 1030.87 177.91 1035.73 177.91C1038.29 177.91 1040.81 179.14 1042.90 180.60C1044.82 181.93 1045.89 184.18 1047.39 185.98M1107.46 183.29C1103.88 182.69 1100.31 181.93 1096.70 181.49C1091.94 180.92 1087.13 180.72 1082.36 180.24C1078.17 179.82 1073.99 179.28 1069.80 178.80M1106.57 154.59C1104.47 156.09 1102.02 157.18 1100.29 159.08C1098.94 160.56 1097.60 162.45 1097.60 164.46C1097.60 166.20 1098.76 168.11 1100.29 168.94C1102.41 170.09 1105.25 170.79 1107.46 169.84C1110.00 168.75 1110.89 165.51 1112.84 163.56C1114.49 161.91 1116.04 159.92 1118.22 159.08C1120.18 158.33 1122.57 158.27 1124.50 159.08C1126.45 159.89 1128.04 161.67 1128.98 163.56C1129.93 165.45 1130.07 167.73 1129.88 169.84C1129.76 171.17 1128.68 172.23 1128.09 173.42M1164.85 148.32C1163.35 151.31 1161.61 154.18 1160.36 157.28C1159.21 160.18 1158.71 163.31 1157.67 166.25C1156.61 169.29 1156.02 172.64 1154.09 175.22C1152.30 177.61 1149.68 179.47 1146.92 180.60C1142.95 182.22 1138.51 182.25 1134.36 183.29C1130.14 184.34 1125.86 185.28 1121.81 186.87C1117.45 188.58 1113.31 190.81 1109.26 193.15C1105.52 195.30 1101.81 197.56 1098.50 200.32C1096.38 202.09 1094.22 204.08 1093.12 206.60C1092.03 209.08 1091.96 211.98 1092.22 214.67C1092.57 218.35 1093.95 221.86 1094.91 225.43C1096.04 229.63 1097.25 233.81 1098.50 237.98C1099.94 242.78 1101.40 247.58 1102.98 252.33C1104.38 256.54 1106.17 260.63 1107.46 264.88C1108.57 268.53 1109.26 272.29 1110.15 276.00M964.00 186.87C965.79 188.97 967.43 191.20 969.38 193.15C971.63 195.40 974.16 197.33 976.55 199.43C978.94 201.52 981.55 203.39 983.73 205.70C986.35 208.49 988.60 211.61 990.90 214.67C993.09 217.59 995.12 220.63 997.18 223.64C999.00 226.30 1000.84 228.96 1002.56 231.71C1003.83 233.75 1004.95 235.89 1006.14 237.98M993.59 203.55C996.58 203.07 999.55 202.49 1002.56 202.12C1005.83 201.71 1009.12 201.22 1012.42 201.22C1015.42 201.22 1018.62 200.93 1021.39 202.12C1023.14 202.87 1024.97 204.69 1024.97 206.60C1024.97 208.76 1023.26 210.91 1021.39 211.98C1018.74 213.49 1015.47 213.77 1012.42 213.77C1009.66 213.77 1006.88 213.07 1004.35 211.98C1002.59 211.23 1000.37 210.24 999.87 208.39C999.51 207.08 1001.66 206.36 1002.56 205.34M964.00 205.70C966.39 208.69 968.88 211.61 971.17 214.67C973.36 217.59 975.38 220.63 977.45 223.64C978.67 225.41 979.84 227.22 981.04 229.02M1021.03 219.69C1022.94 220.41 1024.84 221.17 1026.77 221.84C1030.34 223.08 1034.35 223.38 1037.52 225.43C1039.68 226.83 1041.00 229.34 1042.01 231.71C1042.84 233.65 1043.38 235.92 1042.90 237.98C1042.42 240.08 1040.51 241.57 1039.32 243.36M964.00 235.29C967.59 235.59 971.18 235.78 974.76 236.19C978.96 236.67 983.15 237.24 987.31 237.98C991.53 238.73 995.65 239.94 999.87 240.67C1002.53 241.14 1005.23 241.57 1007.94 241.57C1011.24 241.57 1014.57 239.99 1017.80 240.67C1020.56 241.25 1022.98 243.16 1024.97 245.16C1026.97 247.15 1028.43 249.70 1029.45 252.33C1030.56 255.17 1030.65 258.31 1031.25 261.30C1031.85 264.28 1032.15 267.35 1033.04 270.26C1033.66 272.28 1034.83 274.09 1035.73 276.00M1064.42 229.91C1064.72 233.20 1064.85 236.51 1065.32 239.78C1065.75 242.79 1066.44 245.77 1067.11 248.74C1067.93 252.35 1068.68 255.98 1069.80 259.50C1070.78 262.57 1072.02 265.56 1073.39 268.47C1074.42 270.65 1075.78 272.65 1076.98 274.74M1150.50 211.08C1148.11 210.78 1145.66 209.57 1143.33 210.19C1140.84 210.85 1138.71 212.71 1137.05 214.67C1135.33 216.71 1134.23 219.28 1133.47 221.84C1132.42 225.33 1132.48 229.06 1131.67 232.60C1130.98 235.65 1130.38 238.78 1128.98 241.57C1127.65 244.24 1125.79 246.71 1123.60 248.74C1121.54 250.66 1119.07 252.24 1116.43 253.23C1114.46 253.96 1112.24 253.58 1110.15 253.76M1167.00 257.71C1165.09 255.32 1163.29 252.83 1161.26 250.54C1159.58 248.64 1157.91 246.68 1155.88 245.16C1154.28 243.95 1152.30 243.36 1150.50 242.47M1125.40 271.16C1128.98 270.86 1132.57 270.56 1136.16 270.26C1139.74 269.96 1143.33 269.72 1146.92 269.36C1149.31 269.13 1151.70 268.77 1154.09 268.47M964.00 263.09C967.59 261.89 971.03 260.12 974.76 259.50C978.30 258.91 981.98 258.91 985.52 259.50C989.25 260.12 992.84 261.52 996.28 263.09C999.45 264.53 1002.52 266.29 1005.25 268.47C1007.95 270.63 1010.03 273.49 1012.42 276.00M972.07 261.30C971.47 263.69 970.72 266.04 970.28 268.47C969.82 270.96 969.68 273.49 969.38 276.00M776.24 275.00C776.54 277.09 776.14 279.42 777.14 281.28C778.34 283.51 780.22 285.58 782.52 286.66C784.97 287.80 787.95 288.14 790.59 287.55C793.59 286.89 796.26 284.99 798.66 283.07C800.81 281.35 802.35 278.97 804.04 276.79C804.45 276.27 804.64 275.60 804.94 275.00M763.69 300.11C766.38 301.00 768.93 302.55 771.76 302.80C775.94 303.16 780.14 302.32 784.31 301.90C789.11 301.42 793.88 300.70 798.66 300.11C803.44 299.51 808.26 299.16 813.01 298.31C816.64 297.66 820.09 296.05 823.77 295.62C827.92 295.14 832.18 294.99 836.32 295.62C840.05 296.20 843.59 297.76 847.08 299.21C850.78 300.75 854.37 302.57 857.84 304.59C861.56 306.76 865.04 309.33 868.60 311.76C871.61 313.82 874.50 316.05 877.56 318.04C880.49 319.94 883.49 321.71 886.53 323.42C888.28 324.40 890.12 325.21 891.91 326.11M773.55 322.52C775.94 324.02 778.06 326.07 780.73 327.01C784.16 328.21 787.90 328.20 791.49 328.80C795.07 329.40 798.78 329.49 802.25 330.59C805.43 331.61 808.54 333.07 811.21 335.08C813.42 336.73 814.80 339.26 816.59 341.35C818.39 343.44 819.88 345.83 821.97 347.63C824.11 349.46 826.43 351.36 829.14 352.11C832.02 352.91 835.18 352.70 838.11 352.11C841.27 351.48 844.35 350.23 847.08 348.52C849.23 347.18 851.32 345.41 852.46 343.14C853.54 340.99 853.80 338.34 853.35 335.97C852.86 333.34 851.59 330.76 849.77 328.80C847.57 326.43 844.65 324.73 841.70 323.42C838.89 322.18 835.80 321.51 832.73 321.27C829.74 321.03 826.55 320.87 823.77 321.98C821.49 322.90 819.51 324.82 818.39 327.01C817.28 329.15 817.79 331.79 817.49 334.18M833.63 337.77C835.12 337.17 836.51 335.81 838.11 335.97C839.85 336.15 841.82 337.10 842.59 338.66C843.28 340.02 842.83 342.13 841.70 343.14C840.58 344.15 838.62 344.03 837.21 343.50C835.95 343.03 834.73 341.79 834.52 340.45C834.36 339.39 835.72 338.66 836.32 337.77M863.22 336.87C866.21 337.77 869.30 338.38 872.18 339.56C875.90 341.08 879.36 343.14 882.94 344.94C885.33 346.13 887.45 348.72 890.12 348.52C892.45 348.36 893.96 345.80 895.50 344.04C896.87 342.47 897.65 340.45 898.72 338.66M850.66 352.11C851.86 353.61 852.59 355.65 854.25 356.59C856.96 358.14 860.21 358.46 863.22 359.28C866.78 360.26 870.37 361.16 873.98 361.97C876.95 362.65 879.90 363.57 882.94 363.77C886.53 364.00 890.12 363.41 893.70 363.23M774.45 352.11C775.94 354.20 777.17 356.51 778.93 358.39C781.68 361.32 784.91 363.77 787.90 366.46C790.89 369.15 794.10 371.60 796.87 374.53C799.21 377.00 801.41 379.66 803.14 382.60C804.44 384.80 805.71 387.22 805.83 389.77C805.90 391.27 804.40 392.40 803.68 393.72M763.69 353.90C764.29 356.30 764.89 358.69 765.48 361.08C766.08 363.47 767.14 365.79 767.28 368.25C767.44 371.25 767.03 374.29 766.38 377.22C765.83 379.71 764.59 382.00 763.69 384.39M833.63 366.46C834.52 369.45 835.03 372.58 836.32 375.42C838.04 379.20 840.22 382.78 842.59 386.18C845.02 389.67 847.74 392.97 850.66 396.05C853.43 398.96 856.57 401.51 859.63 404.12C862.55 406.60 865.81 408.67 868.60 411.29C870.91 413.47 873.93 415.43 874.87 418.46C875.61 420.82 874.48 423.61 873.08 425.64C871.62 427.75 869.29 429.46 866.80 430.12C864.48 430.74 861.84 430.19 859.63 429.22C856.89 428.02 854.73 425.79 852.46 423.84C850.53 422.19 848.87 420.26 847.08 418.46M898.19 392.46C896.99 389.77 895.53 387.18 894.60 384.39C893.73 381.78 892.81 379.08 892.81 376.32C892.81 373.86 893.15 371.14 894.60 369.15C895.78 367.53 897.99 366.72 899.98 366.46C902.66 366.10 905.47 366.54 908.05 367.35C911.24 368.36 914.14 370.14 917.02 371.84C920.73 374.03 924.19 376.62 927.78 379.01C931.36 381.40 934.88 383.90 938.54 386.18C942.06 388.38 945.68 390.42 949.30 392.46C954.17 395.20 959.10 397.84 964.00 400.53M905.36 335.97C907.45 338.06 909.47 340.23 911.64 342.25C913.96 344.42 916.42 346.43 918.81 348.52C921.20 350.62 923.19 353.28 925.98 354.80C929.88 356.93 934.38 357.72 938.54 359.28C941.55 360.41 944.69 361.31 947.50 362.87C950.11 364.32 952.73 365.98 954.67 368.25C956.41 370.28 957.77 372.80 958.26 375.42C958.71 377.79 958.31 380.38 957.36 382.60C956.45 384.74 954.38 386.18 952.88 387.98M894.60 275.00C895.50 279.78 895.89 284.69 897.29 289.35C898.60 293.71 900.30 298.01 902.67 301.90C904.54 304.97 906.58 308.45 909.84 309.97C911.81 310.89 914.66 309.79 916.12 308.18C918.03 306.08 918.44 302.92 918.81 300.11C919.35 295.96 918.81 291.74 918.81 287.55M917.91 298.31C918.81 301.90 919.48 305.55 920.60 309.07C921.58 312.14 922.81 315.13 924.19 318.04C925.51 320.82 927.44 323.29 928.67 326.11C929.54 328.10 930.61 330.21 930.47 332.39C930.30 334.93 929.23 337.46 927.78 339.56C926.45 341.48 924.19 342.55 922.40 344.04M868.60 276.79C869.19 279.18 869.73 281.59 870.39 283.97C871.23 286.97 872.06 289.99 873.08 292.93C874.45 296.86 876.07 300.70 877.56 304.59M850.66 278.59C851.56 280.38 852.01 282.48 853.35 283.97C854.80 285.57 856.94 286.36 858.73 287.55M954.67 278.59C953.48 281.58 952.74 284.79 951.09 287.55C949.12 290.84 946.71 293.90 943.92 296.52C941.86 298.45 939.13 299.51 936.74 301.00M934.95 323.42C937.34 324.91 939.54 326.77 942.12 327.90C944.38 328.89 946.84 329.86 949.30 329.70C951.57 329.54 954.03 328.68 955.57 327.01C957.84 324.55 958.81 321.14 960.05 318.04C961.21 315.14 961.92 312.08 962.74 309.07C963.23 307.30 963.58 305.49 964.00 303.69M950.19 348.52C952.28 346.43 954.21 344.16 956.47 342.25C958.83 340.26 961.49 338.66 964.00 336.87M951.98 359.28C954.08 359.58 956.24 359.58 958.26 360.18C960.29 360.79 962.09 361.97 964.00 362.87M763.69 398.74C766.38 399.33 769.05 400.01 771.76 400.53C775.33 401.21 778.93 401.73 782.52 402.32C786.11 402.92 789.76 403.19 793.28 404.12C795.48 404.70 797.95 405.20 799.56 406.81C801.73 408.98 802.72 412.10 804.04 414.88C805.42 417.79 805.69 421.27 807.63 423.84C809.42 426.23 812.41 427.43 814.80 429.22M799.56 461.50C797.76 459.71 795.50 458.28 794.18 456.12C792.86 453.98 791.84 451.46 791.84 448.95C791.84 446.43 792.79 443.87 794.18 441.78C795.46 439.83 797.47 438.34 799.56 437.29C801.18 436.48 803.14 436.69 804.94 436.40M830.94 397.84C831.06 401.73 831.35 405.61 831.30 409.50C831.23 413.69 831.08 417.89 830.58 422.05C830.07 426.27 829.15 430.44 828.25 434.60C827.59 437.62 826.78 440.60 825.92 443.57C824.69 447.78 823.99 452.23 821.97 456.12C820.21 459.52 817.71 462.61 814.80 465.09C811.63 467.78 807.81 469.63 804.04 471.36C800.60 472.94 796.87 473.76 793.28 474.95M890.12 443.57C885.93 442.97 881.78 442.08 877.56 441.78C873.39 441.48 869.17 441.30 865.01 441.78C861.34 442.20 857.62 442.95 854.25 444.47C851.53 445.69 848.77 447.38 847.08 449.85C844.73 453.28 843.86 457.54 842.59 461.50C841.47 465.02 840.69 468.65 839.90 472.26C839.49 474.15 839.31 476.09 839.01 478.00M903.57 403.22C901.47 401.73 899.68 399.69 897.29 398.74C895.05 397.84 892.42 397.13 890.12 397.84C888.10 398.46 886.53 400.41 885.63 402.32C884.34 405.09 884.69 408.36 883.84 411.29C882.60 415.56 880.85 419.66 879.36 423.84M906.26 474.05C908.65 473.76 911.36 474.40 913.43 473.16C914.81 472.33 915.15 470.28 915.22 468.67C915.45 463.89 914.54 459.12 914.33 454.33C914.06 448.35 914.00 442.37 913.79 436.40C913.58 430.42 913.28 424.44 913.07 418.46C912.86 412.49 912.47 406.51 912.53 400.53C912.59 395.74 911.85 390.71 913.43 386.18C914.14 384.15 916.65 382.60 918.81 382.60C921.48 382.60 923.81 384.63 925.98 386.18C928.05 387.66 929.57 389.77 931.36 391.56M940.33 422.05C942.72 421.45 945.16 419.48 947.50 420.26C949.55 420.94 950.22 423.66 951.09 425.64C952.34 428.49 952.38 431.81 953.78 434.60C954.82 436.69 956.43 438.54 958.26 439.98C959.92 441.29 962.09 441.78 964.00 442.67M920.60 456.12C922.99 457.62 925.32 459.22 927.78 460.61C930.11 461.92 932.49 463.14 934.95 464.19C936.69 464.94 939.56 464.26 940.33 465.98C941.21 467.97 938.54 470.09 938.54 472.26C938.54 474.27 939.73 476.09 940.33 478.00M765.48 431.02C766.08 434.00 767.14 436.94 767.28 439.98C767.44 443.58 766.20 447.15 766.38 450.74C766.50 453.20 766.43 456.17 768.17 457.92C770.45 460.19 774.14 460.34 777.14 461.50C779.52 462.43 781.92 463.30 784.31 464.19M968.48 276.79C967.89 280.98 967.25 285.16 966.69 289.35C966.05 294.12 965.49 298.91 964.90 303.69C964.60 306.08 964.30 308.47 964.00 310.87M1002.56 279.48C1001.66 280.38 1000.24 280.96 999.87 282.17C998.98 285.04 999.04 288.14 998.97 291.14C998.92 293.24 999.33 295.32 999.51 297.42M1005.25 296.52C1007.04 295.03 1008.44 292.86 1010.63 292.04C1013.44 290.98 1016.60 290.84 1019.59 291.14C1022.70 291.45 1026.03 292.00 1028.56 293.83C1031.66 296.07 1033.11 300.01 1035.73 302.80C1037.91 305.11 1040.00 307.78 1042.90 309.07C1045.65 310.29 1048.94 310.62 1051.87 309.97C1054.62 309.36 1056.98 307.40 1059.04 305.49C1061.23 303.45 1062.38 300.50 1064.42 298.31C1066.59 295.99 1068.76 293.46 1071.60 292.04C1073.75 290.96 1076.41 290.67 1078.77 291.14C1081.13 291.61 1083.50 292.87 1085.05 294.73C1086.68 296.69 1086.84 299.51 1087.74 301.90M1037.52 275.00C1039.92 275.90 1042.31 276.79 1044.70 277.69C1047.09 278.59 1049.59 279.24 1051.87 280.38C1053.80 281.34 1055.82 282.36 1057.25 283.97C1058.32 285.17 1058.45 286.96 1059.04 288.45M1111.05 275.00C1111.35 278.59 1112.10 282.16 1111.95 285.76C1111.79 289.39 1111.17 293.03 1110.15 296.52C1109.06 300.25 1107.54 303.87 1105.67 307.28C1104.23 309.90 1102.78 312.79 1100.29 314.45C1097.14 316.55 1092.97 316.47 1089.53 318.04C1086.36 319.48 1083.31 321.28 1080.56 323.42C1077.89 325.49 1075.78 328.20 1073.39 330.59C1072.49 331.49 1071.60 332.39 1070.70 333.28M1101.19 315.89C1105.07 316.90 1108.88 318.29 1112.84 318.94C1116.98 319.61 1121.20 319.83 1125.40 319.83C1130.19 319.83 1134.97 319.32 1139.74 318.94C1143.93 318.60 1148.12 318.15 1152.30 317.68C1157.20 317.13 1162.10 316.48 1167.00 315.89M1153.19 275.00C1153.49 277.39 1154.37 279.78 1154.09 282.17C1153.76 284.99 1152.30 287.55 1151.40 290.24M1134.36 299.21C1136.16 298.61 1137.88 297.73 1139.74 297.42C1143.29 296.82 1146.91 296.36 1150.50 296.52C1153.55 296.66 1156.85 296.74 1159.47 298.31C1161.67 299.64 1162.46 302.50 1163.95 304.59M993.59 324.32C995.08 322.52 996.35 320.51 998.07 318.94C999.67 317.49 1001.43 316.11 1003.45 315.35C1006.31 314.28 1009.39 313.18 1012.42 313.56C1014.56 313.82 1016.51 315.42 1017.80 317.14C1019.33 319.19 1019.90 321.83 1020.49 324.32C1021.11 326.95 1021.09 329.70 1021.39 332.39M991.80 312.66C990.30 316.25 988.54 319.73 987.31 323.42C986.14 326.93 985.23 330.53 984.62 334.18C984.03 337.73 983.58 341.34 983.73 344.94C983.88 348.57 985.10 352.09 985.52 355.70C986.00 359.87 986.28 364.06 986.42 368.25C986.58 373.03 986.27 377.82 986.42 382.60C986.57 387.39 986.80 392.18 987.31 396.94C987.70 400.56 988.22 404.18 989.11 407.70C989.43 409.00 990.30 410.09 990.90 411.29M1120.91 327.01C1118.22 327.60 1115.40 327.78 1112.84 328.80C1110.84 329.60 1109.10 330.98 1107.46 332.39C1104.90 334.59 1103.43 338.30 1100.29 339.56C1098.27 340.37 1095.77 339.04 1094.01 337.77C1092.27 336.50 1091.06 334.45 1090.43 332.39C1089.81 330.39 1089.96 328.15 1090.43 326.11C1090.88 324.16 1092.22 322.52 1093.12 320.73M1074.65 342.61C1071.24 343.38 1067.86 344.32 1064.42 344.94C1060.26 345.69 1056.03 345.99 1051.87 346.73C1047.66 347.48 1043.47 348.38 1039.32 349.42C1035.10 350.48 1030.89 351.63 1026.77 353.01C1023.71 354.03 1020.27 354.53 1017.80 356.59C1014.68 359.20 1012.38 362.79 1010.63 366.46C1009.03 369.79 1008.97 373.67 1007.94 377.22C1006.88 380.85 1005.64 384.42 1004.35 387.98C1003.25 391.00 1001.58 393.83 1000.76 396.94C1000.07 399.56 1000.16 402.32 999.87 405.01M1024.08 348.52C1022.58 346.73 1021.48 344.52 1019.59 343.14C1018.06 342.03 1016.10 341.19 1014.21 341.35C1012.21 341.52 1010.44 342.84 1008.83 344.04C1006.80 345.56 1004.88 347.33 1003.45 349.42C1000.96 353.06 999.08 357.10 997.18 361.08C995.79 363.98 994.78 367.06 993.59 370.04M1109.26 384.39C1110.15 380.21 1110.83 375.97 1111.95 371.84C1112.93 368.19 1114.21 364.62 1115.53 361.08C1116.90 357.44 1118.54 353.91 1120.02 350.32C1121.23 347.34 1122.41 344.34 1123.60 341.35C1124.20 339.86 1124.80 338.36 1125.40 336.87M1126.29 337.77C1131.97 338.24 1137.65 338.76 1143.33 339.20C1146.91 339.48 1150.56 339.25 1154.09 339.92C1156.01 340.28 1158.14 340.81 1159.47 342.25C1160.50 343.37 1160.07 345.24 1160.36 346.73M964.00 336.87C965.79 338.96 967.88 340.83 969.38 343.14C971.20 345.95 972.72 348.97 973.86 352.11C975.13 355.59 975.66 359.28 976.55 362.87M964.00 364.66C965.20 366.46 966.72 368.07 967.59 370.04C968.84 372.90 969.76 375.93 970.28 379.01C970.67 381.37 970.86 383.86 970.28 386.18C969.91 387.63 968.48 388.57 967.59 389.77M964.00 400.53C966.99 399.93 970.01 399.48 972.97 398.74C975.99 397.98 978.97 397.03 981.93 396.05C983.46 395.54 984.92 394.85 986.42 394.25M1028.56 405.91C1030.95 402.92 1033.54 400.08 1035.73 396.94C1037.73 394.09 1039.18 390.88 1041.11 387.98C1042.77 385.49 1044.38 382.92 1046.49 380.80C1048.60 378.69 1051.05 376.88 1053.66 375.42C1056.48 373.86 1059.51 372.62 1062.63 371.84C1065.54 371.11 1068.60 370.77 1071.60 370.94C1074.06 371.08 1077.10 370.92 1078.77 372.73C1081.14 375.30 1082.05 379.11 1082.36 382.60C1082.67 386.22 1081.58 389.87 1080.56 393.36C1079.48 397.09 1077.57 400.53 1076.08 404.12C1074.59 407.70 1072.69 411.15 1071.60 414.88C1070.58 418.37 1069.44 422.02 1069.80 425.64C1070.07 428.30 1072.26 430.39 1073.39 432.81C1074.35 434.87 1076.08 436.81 1076.08 439.09C1076.08 441.09 1075.06 443.35 1073.39 444.47C1071.90 445.46 1069.80 444.47 1068.01 444.47M1053.66 385.29C1055.16 385.88 1057.01 385.94 1058.15 387.08C1059.57 388.50 1060.55 390.48 1060.84 392.46C1061.47 396.90 1061.65 401.50 1060.84 405.91C1060.13 409.73 1058.02 413.16 1056.35 416.67C1055.03 419.45 1053.37 422.05 1051.87 424.74M1038.42 412.19C1040.21 413.08 1042.46 413.39 1043.80 414.88C1045.32 416.57 1046.79 418.90 1046.49 421.15C1045.83 426.22 1043.47 430.97 1041.11 435.50C1039.54 438.52 1037.03 440.96 1034.83 443.57C1033.14 445.57 1031.25 447.39 1029.45 449.31M1001.66 418.46C1002.26 422.05 1003.31 425.59 1003.45 429.22C1003.61 433.41 1003.38 437.66 1002.56 441.78C1001.87 445.21 1000.79 448.65 998.97 451.64C997.43 454.16 995.30 456.52 992.69 457.92C990.57 459.05 987.90 459.15 985.52 458.81C983.53 458.53 981.81 457.23 980.14 456.12C979.08 455.42 978.35 454.33 977.45 453.43M1012.42 426.53C1013.32 428.92 1014.30 431.28 1015.11 433.71C1016.39 437.56 1018.34 441.31 1018.70 445.36C1018.96 448.40 1018.06 451.51 1016.90 454.33C1015.92 456.71 1014.24 458.79 1012.42 460.61C1011.19 461.84 1009.43 462.40 1007.94 463.30M1017.80 472.26C1021.39 470.47 1025.09 468.90 1028.56 466.88C1032.28 464.71 1035.83 462.24 1039.32 459.71C1042.41 457.46 1045.08 454.62 1048.28 452.54C1051.09 450.71 1053.91 448.05 1057.25 448.05C1059.36 448.05 1060.63 450.74 1061.73 452.54C1063.07 454.71 1063.11 457.52 1064.42 459.71C1065.84 462.07 1067.70 464.21 1069.80 465.98C1071.64 467.54 1073.99 468.38 1076.08 469.57M1116.43 439.98C1116.73 437.59 1118.15 435.07 1117.33 432.81C1116.73 431.17 1114.59 430.12 1112.84 430.12C1110.84 430.12 1109.00 431.53 1107.46 432.81C1105.35 434.57 1103.79 436.92 1102.08 439.09C1100.49 441.11 1097.60 442.79 1097.60 445.36C1097.60 448.70 1100.34 451.48 1102.08 454.33C1103.64 456.88 1105.60 459.17 1107.46 461.50C1109.18 463.65 1111.24 465.54 1112.84 467.78C1114.24 469.74 1115.31 471.92 1116.43 474.05C1117.10 475.33 1117.62 476.68 1118.22 478.00M1133.47 449.85C1135.86 448.65 1138.07 446.99 1140.64 446.26C1144.42 445.18 1148.39 444.91 1152.30 444.47C1155.27 444.13 1158.27 444.04 1161.26 443.93C1163.17 443.86 1165.09 443.93 1167.00 443.93M1136.16 369.15C1135.26 371.24 1133.99 373.21 1133.47 375.42C1132.78 378.35 1132.40 381.39 1132.57 384.39C1132.71 386.85 1133.06 389.47 1134.36 391.56C1136.15 394.43 1138.59 397.08 1141.54 398.74C1143.64 399.92 1146.32 399.33 1148.71 399.63M1167.00 355.70C1163.89 356.89 1160.78 358.07 1157.67 359.28C1154.68 360.46 1151.17 360.79 1148.71 362.87C1146.97 364.34 1146.16 366.88 1146.02 369.15C1145.85 371.90 1146.76 374.67 1147.81 377.22C1148.89 379.82 1150.70 382.07 1152.30 384.39C1153.99 386.85 1155.76 389.27 1157.67 391.56C1158.76 392.86 1160.07 393.95 1161.26 395.15M1161.26 398.74C1161.56 402.92 1162.31 407.10 1162.16 411.29C1162.01 415.51 1161.39 419.74 1160.36 423.84C1159.58 426.97 1158.14 429.89 1156.78 432.81C1156.04 434.39 1154.98 435.80 1154.09 437.29M1125.40 461.50C1127.19 463.59 1128.68 465.98 1130.78 467.78C1132.92 469.61 1135.32 471.24 1137.95 472.26C1140.79 473.37 1143.87 473.89 1146.92 474.05C1149.32 474.19 1151.70 473.46 1154.09 473.16M964.00 420.26C964.90 422.05 966.27 423.68 966.69 425.64C967.19 427.97 967.19 430.47 966.69 432.81C966.27 434.77 964.90 436.40 964.00 438.19" fill="none" stroke="#fff" stroke-width="1.8" stroke-linecap="round"/><path d="M765.9 134.0L769.7 147.0L759.8 146.1ZM804.1 115.7L791.5 120.7L791.5 110.7ZM855.0 83.9L844.1 92.0L841.5 82.4ZM900.9 109.6L901.7 96.0L910.8 100.2ZM869.6 178.5L859.0 170.1L867.6 165.1ZM834.5 165.0L829.5 152.4L839.5 152.4ZM942.1 181.0L929.5 186.0L929.5 176.0ZM773.2 188.3L768.2 175.7L778.2 175.7ZM804.0 192.2L802.0 205.6L793.3 200.6ZM832.2 210.2L819.6 215.2L819.6 205.2ZM927.2 139.7L939.8 134.7L939.8 144.7ZM929.9 103.5L943.5 103.1L940.1 112.5ZM894.7 200.5L906.6 207.0L898.9 213.4ZM928.3 208.0L918.2 217.0L914.8 207.6ZM953.2 236.7L940.4 232.4L946.8 224.7ZM960.0 204.8L947.6 199.4L954.7 192.3ZM939.6 263.3L950.5 255.2L953.1 264.9ZM809.4 273.9L804.4 261.3L814.4 261.3ZM778.1 240.7L765.5 245.7L765.5 235.7ZM823.8 251.4L828.8 264.0L818.8 264.0ZM976.0 95.0L963.5 89.7L970.6 82.6ZM1036.6 167.2L1049.5 171.5L1043.1 179.2ZM1080.0 90.6L1092.6 85.6L1092.6 95.6ZM1037.9 98.3L1028.9 88.2L1038.3 84.7ZM1094.9 79.8L1107.5 74.8L1107.5 84.8ZM1153.7 100.5L1148.7 87.9L1158.7 87.9ZM1060.8 117.1L1047.5 119.9L1049.2 110.0ZM1079.1 158.3L1087.5 147.7L1092.5 156.3ZM1075.9 154.2L1068.8 142.6L1078.7 140.9ZM1108.1 123.9L1121.3 121.2L1119.6 131.0ZM959.9 155.8L972.5 150.8L972.5 160.8ZM1003.7 174.4L1012.1 163.8L1017.1 172.5ZM1045.2 176.3L1033.6 183.4L1031.9 173.5ZM1063.9 178.8L1076.5 173.8L1076.5 183.8ZM1107.9 176.2L1097.3 167.8L1106.0 162.8ZM978.8 202.7L990.7 209.1L983.0 215.5ZM988.2 203.9L1000.8 198.9L1000.8 208.9ZM1039.0 224.4L1025.4 224.7L1028.8 215.3ZM1017.0 233.0L1008.6 243.7L1003.6 235.0ZM1067.7 255.9L1061.6 243.8L1071.5 242.9ZM1131.1 230.2L1128.4 216.9L1138.2 218.7ZM1143.8 242.5L1156.4 237.5L1156.4 247.5ZM1161.7 267.7L1150.2 274.8L1148.5 265.0ZM970.3 280.1L965.3 267.5L975.3 267.5ZM834.3 293.5L823.5 301.5L820.9 291.9ZM830.6 360.2L825.6 347.6L835.6 347.6ZM895.5 353.3L883.0 348.0L890.1 340.9ZM875.3 363.2L888.6 360.5L886.8 370.3ZM783.9 365.5L771.9 359.1L779.6 352.7ZM767.3 375.4L762.3 362.8L772.3 362.8ZM877.4 417.1L864.5 412.9L870.9 405.2ZM943.8 390.2L957.3 392.2L952.3 400.8ZM935.3 359.6L921.7 358.8L926.0 349.8ZM918.8 291.1L923.8 303.7L913.8 303.7ZM931.7 324.3L932.1 337.9L922.7 334.4ZM867.0 270.2L874.1 281.8L864.2 283.5ZM846.6 271.3L857.2 279.7L848.6 284.7ZM958.7 272.2L956.8 285.6L948.1 280.6ZM965.8 333.7L959.3 345.6L952.9 338.0ZM805.3 411.2L792.4 406.9L798.8 399.3ZM805.9 430.1L801.7 443.0L794.0 436.6ZM824.5 451.6L821.7 438.3L831.6 440.0ZM839.9 459.4L839.5 445.8L848.9 449.2ZM883.1 411.9L885.9 425.2L876.0 423.4ZM925.8 387.6L939.0 390.7L933.3 398.9ZM947.1 467.6L933.6 468.0L937.0 458.6ZM773.1 463.6L761.2 457.2L768.9 450.8ZM969.6 271.2L973.5 284.2L963.5 283.4ZM1036.2 301.3L1023.8 296.0L1030.9 288.9ZM1088.3 317.7L1099.9 310.6L1101.6 320.4ZM1096.1 315.9L1108.7 310.9L1108.7 320.9ZM1147.5 297.4L1134.9 302.4L1134.9 292.4ZM1010.3 311.7L1001.9 322.3L996.9 313.6ZM984.6 353.0L979.6 340.4L989.6 340.4ZM1047.2 323.6L1060.8 323.2L1057.3 332.6ZM1101.5 339.0L1111.7 330.0L1115.1 339.4ZM1009.8 364.5L1014.1 351.6L1021.7 358.0ZM995.8 359.7L997.8 346.3L1006.4 351.3ZM1128.1 331.5L1128.5 345.0L1119.1 341.6ZM965.8 354.8L970.8 367.4L960.8 367.4ZM1083.3 378.1L1078.3 365.5L1088.3 365.5ZM1062.1 403.6L1058.2 390.6L1068.2 391.5ZM1043.3 433.5L1044.1 420.0L1053.1 424.2ZM1004.3 424.7L1000.5 411.8L1010.4 412.6ZM1018.9 444.0L1011.8 432.5L1021.6 430.8ZM1063.0 444.0L1056.5 455.9L1050.1 448.3ZM1093.7 451.3L1099.1 438.8L1106.1 445.9ZM1150.1 444.3L1138.5 451.4L1136.8 441.5ZM1140.7 402.8L1130.1 394.3L1138.8 389.3Z" fill="#fff"/></g>
<rect x="116.00" y="73.00" width="405.50" height="404.50" fill="none" stroke="#000" stroke-width="2.40"/><path d="M197.10 73.00v13 M197.10 477.50v-13 M116.00 396.60h13 M521.50 396.60h-13 M278.20 73.00v13 M278.20 477.50v-13 M116.00 315.70h13 M521.50 315.70h-13 M359.30 73.00v13 M359.30 477.50v-13 M116.00 234.80h13 M521.50 234.80h-13 M440.40 73.00v13 M440.40 477.50v-13 M116.00 153.90h13 M521.50 153.90h-13 " stroke="#000" stroke-width="2.4" fill="none"/><text x="116.00" y="511.00" font-size="32" text-anchor="middle">0</text><text x="104.50" y="488.50" font-size="32" text-anchor="end">0</text><text x="197.10" y="511.00" font-size="32" text-anchor="middle">20</text><text x="104.50" y="407.60" font-size="32" text-anchor="end">20</text><text x="278.20" y="511.00" font-size="32" text-anchor="middle">40</text><text x="104.50" y="326.70" font-size="32" text-anchor="end">40</text><text x="359.30" y="511.00" font-size="32" text-anchor="middle">60</text><text x="104.50" y="245.80" font-size="32" text-anchor="end">60</text><text x="440.40" y="511.00" font-size="32" text-anchor="middle">80</text><text x="104.50" y="164.90" font-size="32" text-anchor="end">80</text><text x="521.50" y="511.00" font-size="32" text-anchor="middle">100</text><text x="104.50" y="84.00" font-size="32" text-anchor="end">100</text>
<rect x="761.00" y="73.00" width="406.00" height="404.50" fill="none" stroke="#000" stroke-width="2.40"/><path d="M842.20 73.00v13 M842.20 477.50v-13 M761.00 396.60h13 M1167.00 396.60h-13 M923.40 73.00v13 M923.40 477.50v-13 M761.00 315.70h13 M1167.00 315.70h-13 M1004.60 73.00v13 M1004.60 477.50v-13 M761.00 234.80h13 M1167.00 234.80h-13 M1085.80 73.00v13 M1085.80 477.50v-13 M761.00 153.90h13 M1167.00 153.90h-13 " stroke="#000" stroke-width="2.4" fill="none"/><text x="761.00" y="511.00" font-size="32" text-anchor="middle">0</text><text x="749.50" y="488.50" font-size="32" text-anchor="end">0</text><text x="842.20" y="511.00" font-size="32" text-anchor="middle">20</text><text x="749.50" y="407.60" font-size="32" text-anchor="end">20</text><text x="923.40" y="511.00" font-size="32" text-anchor="middle">40</text><text x="749.50" y="326.70" font-size="32" text-anchor="end">40</text><text x="1004.60" y="511.00" font-size="32" text-anchor="middle">60</text><text x="749.50" y="245.80" font-size="32" text-anchor="end">60</text><text x="1085.80" y="511.00" font-size="32" text-anchor="middle">80</text><text x="749.50" y="164.90" font-size="32" text-anchor="end">80</text><text x="1167.00" y="511.00" font-size="32" text-anchor="middle">100</text><text x="749.50" y="84.00" font-size="32" text-anchor="end">100</text>
<rect x="539.50" y="73.00" width="20.50" height="404.50" fill="url(#gv)"/><rect x="539.50" y="73.00" width="20.50" height="404.50" fill="none" stroke="#000" stroke-width="2.40"/><text x="570.00" y="200.00" font-size="32">1</text><text x="570.00" y="344.30" font-size="32">0.5</text><text x="570.00" y="488.50" font-size="32">0</text><path d="M539.50 189.00h8 M560.00 189.00h-8 M539.50 333.30h8 M560.00 333.30h-8 M539.50 477.50h8 M560.00 477.50h-8 " stroke="#000" stroke-width="2.4" fill="none"/>
<rect x="1185.50" y="73.00" width="21.50" height="404.50" fill="url(#gb)"/><rect x="1185.50" y="73.00" width="21.50" height="404.50" fill="none" stroke="#000" stroke-width="2.40"/><text x="1217.00" y="120.00" font-size="32">1</text><text x="1217.00" y="304.50" font-size="32">0.5</text><text x="1217.00" y="488.50" font-size="32">0</text><path d="M1185.50 109.00h8 M1207.00 109.00h-8 M1185.50 293.50h8 M1207.00 293.50h-8 M1185.50 477.50h8 M1207.00 477.50h-8 " stroke="#000" stroke-width="2.4" fill="none"/>
<text x="0" y="30" font-size="38"><tspan>(</tspan><tspan class="i">a</tspan><tspan>)</tspan></text>
<text x="149" y="32" font-size="38" textLength="249" lengthAdjust="spacingAndGlyphs">particle density</text>
<text x="416" y="32" font-size="38" class="i">ρ</text><text x="433.5" y="41" font-size="54">/</text><text x="455" y="32" font-size="38" class="i">ρ</text><text x="474.5" y="38" font-size="27">0</text>
<text x="752" y="32" font-size="38" textLength="320" lengthAdjust="spacingAndGlyphs">polarization density</text>
<text x="1089" y="32" font-size="42" class="b">w</text><text x="1123.5" y="41" font-size="54">/</text><text x="1142" y="32" font-size="38" class="i">ρ</text><text x="1162" y="38" font-size="27">0</text>
<text x="319.8" y="555" font-size="36" text-anchor="middle" letter-spacing="3"><tspan class="i">x</tspan><tspan>/</tspan><tspan class="i">ℓ</tspan></text>
<text x="965.0" y="555" font-size="36" text-anchor="middle" letter-spacing="3"><tspan class="i">x</tspan><tspan>/</tspan><tspan class="i">ℓ</tspan></text>
<text transform="translate(27,277) rotate(-90)" font-size="36" text-anchor="middle" letter-spacing="3"><tspan class="i">y</tspan><tspan>/</tspan><tspan class="i">ℓ</tspan></text>
<text transform="translate(672,277) rotate(-90)" font-size="36" text-anchor="middle" letter-spacing="3"><tspan class="i">y</tspan><tspan>/</tspan><tspan class="i">ℓ</tspan></text>
<text transform="translate(1295,281) rotate(-90)" font-size="36" text-anchor="middle" letter-spacing="2.5"><tspan>|</tspan><tspan class="b">w</tspan><tspan>|/</tspan><tspan class="i">ρ</tspan><tspan font-size="24" dy="6">0</tspan></text>
<path d="M367.0 1022.5V1022.1h2.8V1021.8h2.8V1021.3h2.8V1020.4h2.8V1019.3h2.8V1018.7h2.8V1017.0h2.8V1015.3h2.8V1014.2h2.8V1012.3h2.8V1008.9h2.8V1008.6h2.8V1004.7h2.8V1001.1h2.8V1000.0h2.8V998.9h2.8V1000.1h2.8V999.6h2.8V1003.2h2.8V1000.8h2.8V1003.2h2.8V1002.6h2.8V1004.8h2.8V1004.7h2.8V1004.8h2.8V1005.3h2.8V1004.9h2.8V1004.8h2.8V1004.5h2.8V1005.2h2.8V1007.0h2.8V1005.0h2.8V1004.9h2.8V1006.3h2.8V1004.6h2.8V1005.1h2.8V1005.1h2.8V1008.0h2.8V1007.8h2.8V1005.8h2.8V1007.4h2.8V1007.8h2.8V1008.2h2.8V1008.8h2.8V1009.4h2.8V1008.6h2.8V1010.2h2.8V1011.0h2.8V1011.0h2.8V1010.5h2.8V1011.4h2.8V1011.5h2.8V1013.0h2.8V1013.6h2.8V1013.0h2.8V1013.4h2.8V1014.7h2.8V1014.5h2.8V1015.3h2.8V1015.5h2.8V1015.5h2.8V1015.2h2.8V1015.8h2.8V1016.5h2.8V1017.0h2.8V1016.5h2.8V1017.1h2.8V1016.8h2.8V1017.5h2.8V1017.6h2.8V1018.0h2.8V1017.6h2.8V1018.0h2.8V1018.3h2.8V1018.4h2.8V1018.1h2.8V1018.6h2.8V1018.6h2.8V1018.4h2.8V1018.6h2.8V1019.0h2.8V1018.6h2.8V1018.9h2.8V1019.1h2.8V1019.0h2.8V1019.2h2.8V1019.2h2.8V1019.2h2.8V1019.3h2.8V1019.2h2.8V1019.3h2.8V1019.4h2.8V1019.1h2.8V1019.3h2.8V1019.7h2.8V1019.7h2.8V1019.3h2.8V1019.4h2.8V1019.6h2.8V1019.4h2.8V1019.6h2.8V1019.5h2.8V1019.8h2.8V1019.5h2.8V1019.6h2.8V1019.9h2.8V1019.6h2.8V1019.7h2.8V1019.9h2.8V1019.7h2.8V1019.7h2.8V1019.5h2.8V1019.9h2.8V1019.9h2.8V1019.7h2.8V1019.9h2.8V1019.8h2.8V1019.6h2.8V1019.7h2.8V1019.8h2.8V1019.7h2.8V1019.7h2.8V1019.7h2.8V1019.8h2.8V1019.8h2.8V1019.5h2.8V1019.5h2.8V1019.8h2.8V1019.5h2.8V1019.9h2.8V1019.9h2.8V1019.6h2.8V1019.7h2.8V1019.8h2.8V1019.9h2.8V1019.6h2.8V1019.8h2.8V1019.7h2.8V1019.3h2.8V1019.5h2.8V1019.2h2.8V1019.3h2.8V1019.5h2.8V1019.3h2.8V1019.6h2.8V1019.3h2.8V1019.6h2.8V1019.1h2.8V1019.1h2.8V1019.4h2.8V1019.4h2.8V1019.2h2.8V1019.0h2.8V1019.4h2.8V1018.8h2.8V1018.9h2.8V1019.3h2.8V1019.1h2.8V1018.8h2.8V1018.6h2.8V1018.9h2.8V1018.5h2.8V1018.5h2.8V1018.2h2.8V1018.1h2.8V1018.1h2.8V1018.5h2.8V1018.0h2.8V1017.7h2.8V1017.7h2.8V1017.6h2.8V1017.7h2.8V1017.5h2.8V1017.6h2.8V1017.6h2.8V1017.7h2.8V1017.6h2.8V1017.3h2.8V1017.4h2.8V1016.9h2.8V1017.0h2.8V1016.3h2.8V1017.0h2.8V1016.9h2.8V1016.8h2.8V1015.8h2.8V1015.6h2.8V1015.9h2.8V1015.3h2.8V1015.5h2.8V1014.6h2.8V1014.7h2.8V1014.2h2.8V1014.2h2.8V1014.3h2.8V1013.5h2.8V1014.5h2.8V1013.8h2.8V1013.1h2.8V1012.5h2.8V1013.5h2.8V1012.1h2.8V1011.7h2.8V1011.8h2.8V1011.6h2.8V1010.1h2.8V1009.8h2.8V1010.1h2.8V1008.2h2.8V1007.9h2.8V1007.0h2.8V1005.4h2.8V1005.9h2.8V1003.7h2.8V1005.4h2.8V1004.0h2.8V1003.6h2.8V1000.2h2.8V1002.1h2.8V1000.8h2.8V997.7h2.8V995.9h2.8V994.8h2.8V994.8h2.8V992.7h2.8V993.2h2.8V990.6h2.8V989.5h2.8V985.4h2.8V979.1h2.8V976.7h2.8V974.8h2.8V968.3h2.8V963.3h2.8V957.6h2.8V956.6h2.8V951.8h2.8V929.7h2.8V919.4h2.8V888.8h2.8V841.0h2.8V789.5h2.8V716.9h2.8V753.2h2.8V955.6h2.8V1011.6h2.8V1022.5Z" fill="#1f77b4"/><path d="M482.6 774.8V1022.5" stroke="#000" stroke-width="5.2" stroke-dasharray="17.2 8.45" fill="none"/><path d="M959.2 774.8V1022.5" stroke="#000" stroke-width="5.2" stroke-dasharray="17.2 8.45" fill="none"/><rect x="351.5" y="679.5" width="735.5" height="343.0" fill="none" stroke="#000" stroke-width="2.4"/><text x="436.0" y="1073.5" font-size="35" text-anchor="middle" letter-spacing="1">0.25</text><text x="577.2" y="1073.5" font-size="35" text-anchor="middle" letter-spacing="1">0.50</text><text x="718.4" y="1073.5" font-size="35" text-anchor="middle" letter-spacing="1">0.75</text><text x="859.6" y="1073.5" font-size="35" text-anchor="middle" letter-spacing="1">1.00</text><text x="1000.8" y="1073.5" font-size="35" text-anchor="middle" letter-spacing="1">1.25</text><text x="327" y="1034.0" font-size="35" text-anchor="end">0</text><text x="327" y="957.6" font-size="35" text-anchor="end">4</text><text x="327" y="881.2" font-size="35" text-anchor="end">8</text><text x="327" y="804.8" font-size="35" text-anchor="end">12</text><text x="327" y="728.4" font-size="35" text-anchor="end">16</text><path d="M436.0 1022.5v10.5 M577.2 1022.5v10.5 M718.4 1022.5v10.5 M859.6 1022.5v10.5 M1000.8 1022.5v10.5 M351.5 1022.5h-10.5 M351.5 946.1h-10.5 M351.5 869.7h-10.5 M351.5 793.3h-10.5 M351.5 716.9h-10.5 " stroke="#000" stroke-width="2.4" fill="none"/><text x="221" y="650" font-size="37"><tspan>(</tspan><tspan class="i">b</tspan><tspan>)</tspan></text><text x="440" y="662" font-size="38" textLength="557" lengthAdjust="spacingAndGlyphs">probability distribution of density</text><text x="720" y="1117" font-size="36" text-anchor="middle" letter-spacing="2"><tspan class="i">ρ</tspan><tspan>/</tspan><tspan class="i">ρ</tspan><tspan font-size="25" dy="6">0</tspan></text><text transform="translate(271,853) rotate(-90)" font-size="36" text-anchor="middle" letter-spacing="2.5"><tspan class="i">p</tspan><tspan>(</tspan><tspan class="i">ρ</tspan><tspan>/</tspan><tspan class="i">ρ</tspan><tspan font-size="25" dy="6">0</tspan><tspan dy="-6">)</tspan></text><text x="391.5" y="729.5" font-size="28" text-anchor="middle" letter-spacing="0.8"><tspan>|⟨</tspan><tspan class="b">w</tspan><tspan>⟩|</tspan></text><path d="M360.5 736.5h62" stroke="#000" stroke-width="1.6"/><text x="391.5" y="759" font-size="26" text-anchor="middle"><tspan class="i">ρ</tspan><tspan font-size="18" dy="4">0</tspan></text><text transform="translate(436.5,747) scale(1.5,1)" font-size="35">=</text><text x="466.5" y="747" font-size="35" letter-spacing="1">0.01</text><text x="895.0" y="729.5" font-size="28" text-anchor="middle" letter-spacing="0.8"><tspan>|⟨</tspan><tspan class="b">w</tspan><tspan>⟩|</tspan></text><path d="M864.0 736.5h62" stroke="#000" stroke-width="1.6"/><text x="895.0" y="759" font-size="26" text-anchor="middle"><tspan class="i">ρ</tspan><tspan font-size="18" dy="4">0</tspan></text><text transform="translate(940.5,747) scale(1.5,1)" font-size="35">=</text><text x="970.5" y="747" font-size="35" letter-spacing="1">0.07</text>
</svg></body></html>
